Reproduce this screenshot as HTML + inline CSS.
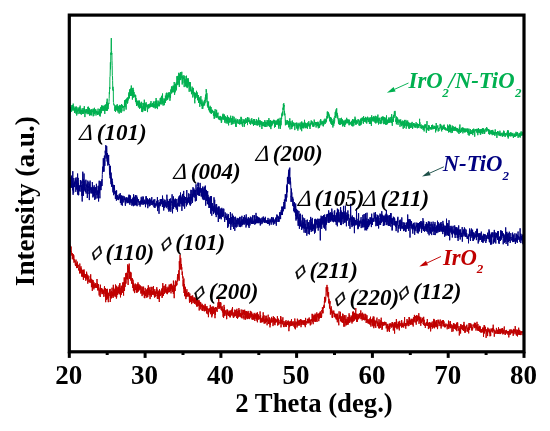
<!DOCTYPE html>
<html><head><meta charset="utf-8"><style>
html,body{margin:0;padding:0;background:#fff;width:550px;height:431px;overflow:hidden}
svg{display:block}
text{font-family:'Liberation Serif','Times New Roman',serif;}
.pk{font-weight:bold;font-style:italic;font-size:23px;fill:#000}
.dl{font-style:italic;font-size:23px;fill:#000}
.lz{font-style:italic;font-size:20px;fill:#000;stroke:#000;stroke-width:0.45px}
.tk{font-weight:bold;font-size:27px;fill:#000}
.ax{font-weight:bold;font-size:27px;fill:#000}
.lb{font-weight:bold;font-style:italic;font-size:22.7px}
</style></head><body>
<svg width="550" height="431" viewBox="0 0 550 431">
<polyline fill="none" stroke="#00b050" stroke-width="1" stroke-linejoin="round" points="69.3,109.7 69.5,110.5 69.6,109.0 69.8,107.4 69.9,108.6 70.1,107.2 70.2,109.9 70.4,113.2 70.5,108.5 70.7,108.2 70.8,111.1 71.0,110.7 71.1,110.1 71.3,107.5 71.4,109.8 71.6,111.7 71.7,106.4 71.9,108.7 72.0,105.0 72.2,106.6 72.3,105.2 72.5,109.4 72.6,106.7 72.8,110.7 72.9,110.4 73.1,109.5 73.2,103.6 73.4,108.7 73.5,109.9 73.7,110.4 73.8,106.2 74.0,108.9 74.2,107.6 74.3,108.0 74.5,112.9 74.6,108.1 74.8,110.1 74.9,112.4 75.1,108.7 75.2,109.9 75.4,110.5 75.5,110.4 75.7,107.1 75.8,110.5 76.0,113.7 76.1,106.3 76.3,112.5 76.4,110.6 76.6,108.7 76.7,115.5 76.9,112.3 77.0,107.3 77.2,110.6 77.3,111.9 77.5,109.9 77.6,112.2 77.8,110.3 77.9,112.1 78.1,114.1 78.2,108.7 78.4,111.0 78.5,109.3 78.7,110.8 78.8,107.5 79.0,109.1 79.2,110.0 79.3,112.9 79.5,113.5 79.6,107.2 79.8,108.6 79.9,112.3 80.1,105.6 80.2,109.5 80.4,110.4 80.5,113.9 80.7,112.5 80.8,109.9 81.0,109.8 81.1,110.2 81.3,114.7 81.4,109.8 81.6,110.1 81.7,111.8 81.9,110.6 82.0,110.5 82.2,108.2 82.3,111.0 82.5,109.9 82.6,114.0 82.8,112.7 82.9,111.0 83.1,112.8 83.2,110.3 83.4,113.8 83.5,111.2 83.7,112.7 83.9,108.0 84.0,112.2 84.2,107.1 84.3,106.2 84.5,110.6 84.6,109.1 84.8,111.8 84.9,117.1 85.1,109.4 85.2,109.9 85.4,112.0 85.5,112.8 85.7,111.1 85.8,111.1 86.0,113.4 86.1,112.9 86.3,109.1 86.4,111.5 86.6,111.8 86.7,109.1 86.9,112.4 87.0,109.6 87.2,114.2 87.3,112.3 87.5,112.1 87.6,110.4 87.8,111.6 87.9,106.9 88.1,109.1 88.2,112.9 88.4,106.7 88.5,114.1 88.7,107.7 88.9,114.0 89.0,110.0 89.2,114.1 89.3,112.5 89.5,108.3 89.6,115.3 89.8,115.8 89.9,112.1 90.1,111.6 90.2,111.9 90.4,109.8 90.5,115.0 90.7,110.9 90.8,112.1 91.0,110.3 91.1,110.7 91.3,109.1 91.4,115.4 91.6,111.9 91.7,114.6 91.9,112.3 92.0,110.5 92.2,111.4 92.3,110.8 92.5,112.2 92.6,111.3 92.8,111.5 92.9,108.8 93.1,110.2 93.2,116.3 93.4,110.5 93.6,109.6 93.7,113.0 93.9,115.7 94.0,108.6 94.2,111.7 94.3,110.6 94.5,107.8 94.6,114.0 94.8,112.1 94.9,112.3 95.1,110.3 95.2,113.3 95.4,110.8 95.5,111.8 95.7,109.4 95.8,109.1 96.0,115.5 96.1,110.9 96.3,112.8 96.4,112.0 96.6,111.0 96.7,110.8 96.9,113.7 97.0,111.3 97.2,111.7 97.3,112.1 97.5,115.0 97.6,113.8 97.8,113.0 97.9,110.7 98.1,108.6 98.2,114.4 98.4,114.5 98.6,111.7 98.7,113.4 98.9,114.0 99.0,114.1 99.2,114.3 99.3,110.9 99.5,115.8 99.6,108.9 99.8,114.1 99.9,113.2 100.1,114.1 100.2,116.5 100.4,115.4 100.5,108.7 100.7,107.2 100.8,113.4 101.0,108.7 101.1,111.1 101.3,113.1 101.4,106.7 101.6,105.4 101.7,111.3 101.9,110.7 102.0,109.8 102.2,110.4 102.3,108.0 102.5,106.2 102.6,109.5 102.8,107.3 102.9,105.5 103.1,110.9 103.3,109.3 103.4,110.4 103.6,106.7 103.7,107.4 103.9,106.4 104.0,106.6 104.2,109.3 104.3,106.7 104.5,109.6 104.6,109.6 104.8,113.9 104.9,104.9 105.1,110.8 105.2,108.2 105.4,108.4 105.5,104.5 105.7,107.1 105.8,110.1 106.0,107.9 106.1,108.3 106.3,107.2 106.4,110.9 106.6,107.7 106.7,101.9 106.9,105.8 107.0,102.3 107.2,98.7 107.3,105.9 107.5,110.7 107.6,107.1 107.8,103.6 107.9,103.9 108.1,109.1 108.3,106.0 108.4,105.0 108.6,103.9 108.7,103.1 108.9,103.9 109.0,101.6 109.2,98.6 109.3,92.3 109.5,94.1 109.6,87.0 109.8,89.0 109.9,76.9 110.1,76.3 110.2,72.0 110.4,62.3 110.5,69.3 110.7,64.1 110.8,52.7 111.0,54.8 111.1,51.3 111.3,38.1 111.4,50.5 111.6,50.9 111.7,54.3 111.9,53.3 112.0,60.7 112.2,65.7 112.3,75.5 112.5,77.0 112.6,80.4 112.8,89.7 113.0,86.8 113.1,90.8 113.3,89.5 113.4,102.2 113.6,102.5 113.7,104.1 113.9,104.8 114.0,104.3 114.2,105.5 114.3,104.9 114.5,105.6 114.6,106.7 114.8,110.9 114.9,108.6 115.1,107.2 115.2,105.9 115.4,105.9 115.5,112.0 115.7,109.2 115.8,108.1 116.0,107.1 116.1,105.1 116.3,107.9 116.4,110.4 116.6,107.2 116.7,107.6 116.9,107.7 117.0,108.6 117.2,104.2 117.3,107.8 117.5,106.2 117.6,110.8 117.8,106.4 118.0,110.0 118.1,112.5 118.3,107.6 118.4,106.9 118.6,108.9 118.7,108.4 118.9,105.8 119.0,109.6 119.2,113.6 119.3,107.6 119.5,107.7 119.6,105.5 119.8,109.0 119.9,104.9 120.1,105.2 120.2,111.5 120.4,105.7 120.5,110.9 120.7,112.0 120.8,108.6 121.0,109.3 121.1,113.0 121.3,107.2 121.4,106.1 121.6,104.1 121.7,107.7 121.9,111.4 122.0,110.0 122.2,104.9 122.3,105.0 122.5,105.9 122.7,107.9 122.8,106.5 123.0,107.5 123.1,107.6 123.3,106.0 123.4,106.5 123.6,107.1 123.7,106.2 123.9,107.6 124.0,111.2 124.2,107.6 124.3,106.0 124.5,101.1 124.6,106.5 124.8,100.0 124.9,101.3 125.1,107.3 125.2,106.7 125.4,104.1 125.5,99.6 125.7,103.1 125.8,102.0 126.0,105.4 126.1,109.6 126.3,103.7 126.4,100.6 126.6,99.2 126.7,102.0 126.9,101.3 127.0,98.2 127.2,101.5 127.4,97.5 127.5,103.6 127.7,103.1 127.8,102.8 128.0,97.9 128.1,100.4 128.3,98.0 128.4,96.9 128.6,96.6 128.7,93.3 128.9,92.4 129.0,98.7 129.2,95.3 129.3,96.1 129.5,98.1 129.6,89.4 129.8,91.8 129.9,94.4 130.1,94.7 130.2,92.0 130.4,96.0 130.5,93.2 130.7,88.5 130.8,89.1 131.0,94.3 131.1,93.1 131.3,85.5 131.4,95.6 131.6,93.2 131.7,95.6 131.9,90.2 132.0,90.5 132.2,88.0 132.4,99.6 132.5,91.3 132.7,97.0 132.8,90.3 133.0,93.1 133.1,87.8 133.3,92.1 133.4,96.6 133.6,90.2 133.7,97.7 133.9,95.8 134.0,92.0 134.2,94.1 134.3,94.6 134.5,96.3 134.6,95.3 134.8,94.8 134.9,96.8 135.1,95.1 135.2,94.7 135.4,98.8 135.5,101.9 135.7,95.3 135.8,100.1 136.0,98.6 136.1,98.0 136.3,103.6 136.4,100.0 136.6,106.0 136.7,99.9 136.9,103.5 137.1,102.1 137.2,100.9 137.4,104.9 137.5,103.0 137.7,105.4 137.8,103.8 138.0,101.2 138.1,104.1 138.3,104.7 138.4,107.4 138.6,102.4 138.7,105.0 138.9,100.5 139.0,107.1 139.2,102.6 139.3,100.7 139.5,105.6 139.6,108.8 139.8,101.8 139.9,103.1 140.1,104.1 140.2,103.2 140.4,107.3 140.5,104.2 140.7,104.5 140.8,108.1 141.0,104.5 141.1,107.8 141.3,104.1 141.4,103.5 141.6,101.8 141.7,111.8 141.9,106.0 142.1,107.5 142.2,106.8 142.4,107.4 142.5,107.1 142.7,112.1 142.8,104.3 143.0,102.9 143.1,104.4 143.3,103.5 143.4,109.1 143.6,109.3 143.7,104.6 143.9,103.5 144.0,106.2 144.2,110.9 144.3,99.7 144.5,108.6 144.6,104.4 144.8,110.0 144.9,104.4 145.1,106.5 145.2,103.2 145.4,104.6 145.5,110.9 145.7,109.4 145.8,106.2 146.0,104.9 146.1,102.2 146.3,106.2 146.4,107.1 146.6,107.0 146.8,106.9 146.9,104.2 147.1,107.0 147.2,107.0 147.4,110.6 147.5,112.1 147.7,106.7 147.8,105.0 148.0,106.9 148.1,105.4 148.3,105.1 148.4,106.9 148.6,104.2 148.7,108.6 148.9,106.7 149.0,107.7 149.2,106.5 149.3,105.0 149.5,104.4 149.6,106.3 149.8,105.4 149.9,107.5 150.1,106.9 150.2,103.2 150.4,107.0 150.5,103.2 150.7,105.1 150.8,105.9 151.0,101.1 151.1,106.8 151.3,107.0 151.4,106.1 151.6,105.3 151.8,105.4 151.9,103.8 152.1,105.6 152.2,104.8 152.4,106.5 152.5,103.0 152.7,106.8 152.8,106.5 153.0,105.7 153.1,104.9 153.3,107.5 153.4,101.5 153.6,107.2 153.7,106.6 153.9,106.6 154.0,106.8 154.2,104.0 154.3,105.0 154.5,107.4 154.6,106.8 154.8,106.2 154.9,101.4 155.1,107.0 155.2,108.6 155.4,108.1 155.5,105.9 155.7,100.9 155.8,107.7 156.0,104.6 156.1,98.0 156.3,105.9 156.5,100.7 156.6,101.1 156.8,102.9 156.9,108.0 157.1,103.4 157.2,105.1 157.4,109.1 157.5,108.6 157.7,103.9 157.8,103.4 158.0,100.5 158.1,102.0 158.3,105.0 158.4,104.8 158.6,104.0 158.7,106.3 158.9,101.4 159.0,103.3 159.2,105.4 159.3,104.9 159.5,106.2 159.6,104.2 159.8,102.2 159.9,103.9 160.1,100.0 160.2,98.2 160.4,104.3 160.5,102.5 160.7,103.4 160.8,97.7 161.0,101.3 161.1,100.6 161.3,99.8 161.5,95.8 161.6,101.1 161.8,104.5 161.9,103.0 162.1,100.1 162.2,101.6 162.4,103.6 162.5,93.5 162.7,100.8 162.8,102.6 163.0,102.8 163.1,105.6 163.3,103.8 163.4,101.3 163.6,101.1 163.7,102.4 163.9,98.4 164.0,99.7 164.2,102.3 164.3,105.2 164.5,98.9 164.6,99.1 164.8,99.7 164.9,102.8 165.1,98.7 165.2,102.9 165.4,95.6 165.5,97.8 165.7,97.6 165.8,100.3 166.0,101.0 166.2,93.3 166.3,94.9 166.5,98.4 166.6,95.3 166.8,92.6 166.9,100.1 167.1,98.3 167.2,98.1 167.4,95.1 167.5,99.4 167.7,95.5 167.8,99.4 168.0,93.2 168.1,93.2 168.3,96.2 168.4,93.3 168.6,97.4 168.7,95.9 168.9,92.2 169.0,95.1 169.2,93.6 169.3,97.3 169.5,92.5 169.6,92.9 169.8,97.8 169.9,100.8 170.1,99.9 170.2,93.7 170.4,93.9 170.5,97.8 170.7,92.4 170.8,89.5 171.0,92.7 171.2,93.5 171.3,89.2 171.5,86.4 171.6,86.8 171.8,93.2 171.9,88.5 172.1,90.2 172.2,91.0 172.4,92.1 172.5,88.8 172.7,91.2 172.8,86.6 173.0,88.0 173.1,85.6 173.3,92.3 173.4,88.3 173.6,85.8 173.7,86.8 173.9,87.0 174.0,89.7 174.2,82.0 174.3,83.6 174.5,85.5 174.6,94.8 174.8,89.4 174.9,85.6 175.1,88.1 175.2,92.3 175.4,84.5 175.5,83.9 175.7,88.9 175.9,86.3 176.0,86.6 176.2,82.5 176.3,90.4 176.5,89.4 176.6,85.4 176.8,85.6 176.9,76.2 177.1,85.0 177.2,81.9 177.4,83.8 177.5,84.4 177.7,80.8 177.8,75.9 178.0,82.7 178.1,78.8 178.3,80.0 178.4,78.9 178.6,79.7 178.7,72.8 178.9,84.7 179.0,81.3 179.2,84.0 179.3,86.9 179.5,80.0 179.6,73.6 179.8,76.5 179.9,75.3 180.1,77.6 180.2,79.4 180.4,72.1 180.5,80.1 180.7,73.5 180.9,79.6 181.0,78.0 181.2,77.2 181.3,77.9 181.5,76.1 181.6,75.7 181.8,71.8 181.9,77.4 182.1,83.9 182.2,84.5 182.4,82.3 182.5,80.3 182.7,75.6 182.8,83.1 183.0,78.0 183.1,78.1 183.3,77.5 183.4,78.9 183.6,77.2 183.7,78.6 183.9,75.2 184.0,77.8 184.2,87.1 184.3,79.1 184.5,78.7 184.6,81.5 184.8,82.2 184.9,76.0 185.1,79.4 185.2,83.5 185.4,81.5 185.6,81.2 185.7,86.3 185.9,79.0 186.0,81.8 186.2,80.0 186.3,87.1 186.5,75.7 186.6,80.2 186.8,81.0 186.9,85.2 187.1,85.3 187.2,88.1 187.4,78.5 187.5,86.5 187.7,83.2 187.8,82.2 188.0,86.5 188.1,81.9 188.3,78.3 188.4,84.2 188.6,80.7 188.7,83.8 188.9,87.4 189.0,87.4 189.2,91.8 189.3,86.2 189.5,82.1 189.6,84.9 189.8,84.6 189.9,83.9 190.1,89.5 190.3,86.2 190.4,82.2 190.6,91.0 190.7,88.7 190.9,90.4 191.0,89.9 191.2,91.8 191.3,90.1 191.5,94.2 191.6,91.8 191.8,92.0 191.9,92.3 192.1,86.6 192.2,90.9 192.4,90.9 192.5,92.6 192.7,88.0 192.8,97.5 193.0,93.0 193.1,89.2 193.3,87.9 193.4,92.5 193.6,93.4 193.7,91.7 193.9,94.4 194.0,92.4 194.2,96.3 194.3,92.6 194.5,95.0 194.6,98.3 194.8,103.3 194.9,92.8 195.1,94.6 195.3,93.6 195.4,98.6 195.6,92.9 195.7,95.0 195.9,96.5 196.0,93.8 196.2,93.9 196.3,95.5 196.5,90.8 196.6,92.9 196.8,96.0 196.9,97.8 197.1,97.0 197.2,92.4 197.4,96.4 197.5,100.2 197.7,99.6 197.8,97.9 198.0,95.6 198.1,100.2 198.3,96.7 198.4,95.1 198.6,96.3 198.7,103.0 198.9,99.5 199.0,102.4 199.2,97.7 199.3,102.0 199.5,97.6 199.6,99.0 199.8,106.8 200.0,101.9 200.1,98.4 200.3,99.9 200.4,101.3 200.6,104.1 200.7,99.4 200.9,96.1 201.0,100.5 201.2,101.6 201.3,102.1 201.5,105.7 201.6,103.1 201.8,104.7 201.9,99.6 202.1,105.3 202.2,108.9 202.4,105.4 202.5,104.2 202.7,104.1 202.8,108.8 203.0,101.5 203.1,103.8 203.3,105.4 203.4,106.2 203.6,102.9 203.7,104.9 203.9,103.2 204.0,104.3 204.2,103.4 204.3,100.5 204.5,103.3 204.6,105.5 204.8,99.9 205.0,101.4 205.1,103.3 205.3,97.4 205.4,99.8 205.6,94.6 205.7,99.2 205.9,100.7 206.0,97.8 206.2,89.1 206.3,91.7 206.5,90.7 206.6,92.6 206.8,99.5 206.9,93.2 207.1,102.2 207.2,100.7 207.4,106.2 207.5,103.8 207.7,102.4 207.8,105.7 208.0,107.5 208.1,106.2 208.3,107.8 208.4,105.5 208.6,101.5 208.7,109.9 208.9,109.6 209.0,108.4 209.2,108.4 209.3,111.2 209.5,107.5 209.7,107.0 209.8,108.6 210.0,112.3 210.1,105.8 210.3,112.6 210.4,108.1 210.6,107.0 210.7,113.3 210.9,109.9 211.0,107.0 211.2,109.6 211.3,113.0 211.5,113.8 211.6,109.8 211.8,112.1 211.9,113.0 212.1,109.7 212.2,112.4 212.4,111.5 212.5,110.4 212.7,110.6 212.8,112.2 213.0,112.2 213.1,110.9 213.3,111.3 213.4,115.3 213.6,113.2 213.7,115.0 213.9,115.9 214.0,114.5 214.2,118.8 214.3,111.3 214.5,115.4 214.7,112.8 214.8,118.2 215.0,117.9 215.1,109.2 215.3,111.7 215.4,115.8 215.6,116.2 215.7,116.2 215.9,114.4 216.0,115.8 216.2,116.4 216.3,114.7 216.5,117.5 216.6,109.8 216.8,116.8 216.9,113.0 217.1,117.8 217.2,115.1 217.4,113.7 217.5,116.8 217.7,113.9 217.8,114.0 218.0,112.6 218.1,116.4 218.3,117.7 218.4,119.0 218.6,116.5 218.7,119.3 218.9,117.1 219.0,116.9 219.2,118.6 219.4,119.8 219.5,116.7 219.7,117.1 219.8,117.4 220.0,118.1 220.1,115.9 220.3,120.3 220.4,117.1 220.6,119.1 220.7,116.2 220.9,119.0 221.0,119.1 221.2,117.3 221.3,122.8 221.5,119.1 221.6,122.4 221.8,120.5 221.9,116.9 222.1,117.6 222.2,119.5 222.4,118.6 222.5,118.7 222.7,117.9 222.8,114.5 223.0,118.2 223.1,113.7 223.3,119.6 223.4,117.1 223.6,117.2 223.7,118.4 223.9,119.5 224.0,115.7 224.2,115.0 224.4,116.6 224.5,114.5 224.7,116.9 224.8,122.7 225.0,116.8 225.1,120.6 225.3,116.2 225.4,119.9 225.6,118.6 225.7,119.2 225.9,120.6 226.0,123.3 226.2,119.9 226.3,119.8 226.5,117.4 226.6,120.9 226.8,119.1 226.9,121.5 227.1,119.6 227.2,123.6 227.4,115.4 227.5,119.1 227.7,121.8 227.8,119.1 228.0,118.2 228.1,119.4 228.3,116.9 228.4,120.3 228.6,125.4 228.7,122.6 228.9,117.7 229.1,118.3 229.2,119.3 229.4,122.5 229.5,118.5 229.7,118.8 229.8,122.3 230.0,122.3 230.1,119.6 230.3,118.0 230.4,117.1 230.6,119.0 230.7,115.7 230.9,122.3 231.0,119.3 231.2,121.8 231.3,124.8 231.5,123.3 231.6,118.3 231.8,122.7 231.9,123.4 232.1,119.3 232.2,118.9 232.4,120.8 232.5,117.6 232.7,124.3 232.8,115.9 233.0,118.8 233.1,120.6 233.3,120.8 233.4,121.6 233.6,121.9 233.7,120.9 233.9,123.8 234.1,116.8 234.2,121.5 234.4,120.0 234.5,121.8 234.7,122.1 234.8,119.7 235.0,120.3 235.1,123.4 235.3,122.4 235.4,120.2 235.6,126.0 235.7,126.6 235.9,118.5 236.0,122.3 236.2,127.0 236.3,123.3 236.5,122.1 236.6,121.2 236.8,120.5 236.9,121.2 237.1,120.5 237.2,123.3 237.4,120.8 237.5,120.7 237.7,119.1 237.8,121.6 238.0,119.8 238.1,121.3 238.3,123.9 238.4,122.5 238.6,122.8 238.8,122.4 238.9,121.8 239.1,121.4 239.2,121.0 239.4,123.3 239.5,119.4 239.7,124.5 239.8,121.7 240.0,120.1 240.1,120.6 240.3,120.2 240.4,122.0 240.6,120.1 240.7,124.1 240.9,120.0 241.0,116.8 241.2,120.1 241.3,117.4 241.5,121.6 241.6,123.9 241.8,123.1 241.9,118.8 242.1,120.0 242.2,125.5 242.4,122.4 242.5,121.7 242.7,123.9 242.8,126.9 243.0,124.4 243.1,122.0 243.3,122.4 243.5,123.0 243.6,120.4 243.8,119.4 243.9,121.8 244.1,119.6 244.2,121.5 244.4,121.9 244.5,126.7 244.7,119.9 244.8,121.4 245.0,121.3 245.1,122.6 245.3,123.9 245.4,120.6 245.6,119.9 245.7,118.2 245.9,119.7 246.0,122.8 246.2,121.8 246.3,119.5 246.5,120.9 246.6,121.7 246.8,122.8 246.9,120.4 247.1,121.1 247.2,117.8 247.4,119.2 247.5,125.1 247.7,117.0 247.8,121.0 248.0,122.1 248.1,120.9 248.3,119.9 248.5,121.5 248.6,121.7 248.8,121.5 248.9,117.7 249.1,121.4 249.2,119.8 249.4,120.5 249.5,122.2 249.7,123.0 249.8,123.6 250.0,120.6 250.1,123.7 250.3,124.2 250.4,124.2 250.6,124.7 250.7,121.5 250.9,121.4 251.0,123.6 251.2,118.9 251.3,122.3 251.5,120.7 251.6,121.1 251.8,118.2 251.9,120.0 252.1,121.9 252.2,123.8 252.4,124.1 252.5,121.8 252.7,121.6 252.8,120.3 253.0,122.9 253.2,121.5 253.3,123.4 253.5,125.8 253.6,122.0 253.8,119.0 253.9,120.3 254.1,119.1 254.2,119.6 254.4,125.0 254.5,122.7 254.7,119.0 254.8,123.6 255.0,124.9 255.1,121.5 255.3,120.9 255.4,121.6 255.6,122.9 255.7,123.7 255.9,124.9 256.0,125.0 256.2,124.9 256.3,125.3 256.5,123.8 256.6,119.2 256.8,122.2 256.9,123.2 257.1,121.7 257.2,124.5 257.4,121.8 257.5,120.6 257.7,125.6 257.8,124.0 258.0,123.1 258.2,124.6 258.3,124.9 258.5,123.4 258.6,117.6 258.8,121.3 258.9,121.8 259.1,120.7 259.2,123.2 259.4,125.3 259.5,121.8 259.7,120.5 259.8,127.1 260.0,121.9 260.1,120.3 260.3,123.4 260.4,123.8 260.6,121.5 260.7,124.6 260.9,122.0 261.0,121.1 261.2,123.4 261.3,124.6 261.5,121.7 261.6,123.8 261.8,122.9 261.9,129.0 262.1,121.6 262.2,126.0 262.4,123.0 262.5,122.9 262.7,124.7 262.9,125.1 263.0,125.9 263.2,123.9 263.3,122.0 263.5,122.2 263.6,124.4 263.8,124.5 263.9,126.2 264.1,124.2 264.2,125.6 264.4,126.5 264.5,123.7 264.7,120.4 264.8,121.0 265.0,120.5 265.1,126.8 265.3,121.7 265.4,126.0 265.6,124.7 265.7,127.0 265.9,125.5 266.0,123.3 266.2,123.1 266.3,123.6 266.5,123.8 266.6,122.4 266.8,123.4 266.9,126.8 267.1,120.0 267.2,124.0 267.4,121.6 267.5,123.9 267.7,125.2 267.9,123.4 268.0,125.1 268.2,120.2 268.3,125.8 268.5,122.2 268.6,124.8 268.8,123.9 268.9,118.1 269.1,121.9 269.2,123.9 269.4,126.7 269.5,124.1 269.7,124.0 269.8,120.6 270.0,126.4 270.1,127.2 270.3,123.5 270.4,123.0 270.6,120.1 270.7,125.3 270.9,129.1 271.0,125.0 271.2,126.1 271.3,124.6 271.5,121.5 271.6,126.2 271.8,120.9 271.9,123.1 272.1,124.1 272.2,125.3 272.4,124.3 272.6,124.3 272.7,121.9 272.9,120.8 273.0,123.6 273.2,122.0 273.3,120.8 273.5,120.9 273.6,122.5 273.8,119.7 273.9,120.7 274.1,120.1 274.2,123.9 274.4,124.3 274.5,127.6 274.7,120.4 274.8,122.1 275.0,125.4 275.1,123.0 275.3,122.8 275.4,127.0 275.6,122.8 275.7,121.1 275.9,120.7 276.0,124.1 276.2,124.1 276.3,120.6 276.5,121.4 276.6,124.5 276.8,124.6 276.9,122.1 277.1,124.7 277.2,124.6 277.4,119.7 277.6,122.7 277.7,124.2 277.9,122.2 278.0,118.9 278.2,122.8 278.3,124.9 278.5,126.6 278.6,118.8 278.8,128.7 278.9,121.0 279.1,125.3 279.2,125.8 279.4,125.3 279.5,123.6 279.7,120.8 279.8,124.5 280.0,121.6 280.1,117.8 280.3,128.9 280.4,124.3 280.6,126.5 280.7,120.6 280.9,125.3 281.0,125.3 281.2,124.8 281.3,120.9 281.5,117.6 281.6,119.0 281.8,113.5 281.9,113.5 282.1,116.4 282.3,112.4 282.4,112.9 282.6,111.6 282.7,115.3 282.9,112.4 283.0,107.7 283.2,110.1 283.3,104.1 283.5,105.0 283.6,108.4 283.8,103.2 283.9,106.6 284.1,105.0 284.2,110.1 284.4,115.4 284.5,110.9 284.7,114.8 284.8,113.5 285.0,114.3 285.1,115.3 285.3,122.4 285.4,125.3 285.6,121.9 285.7,119.9 285.9,123.4 286.0,121.6 286.2,124.3 286.3,123.5 286.5,123.7 286.6,124.5 286.8,122.2 286.9,122.6 287.1,120.0 287.3,122.7 287.4,120.7 287.6,123.4 287.7,121.7 287.9,123.9 288.0,124.7 288.2,120.9 288.3,122.2 288.5,121.9 288.6,125.4 288.8,127.4 288.9,125.6 289.1,123.2 289.2,126.9 289.4,120.9 289.5,127.0 289.7,122.7 289.8,118.3 290.0,129.4 290.1,127.3 290.3,122.0 290.4,124.4 290.6,123.7 290.7,124.4 290.9,121.2 291.0,122.8 291.2,125.2 291.3,124.7 291.5,126.7 291.6,124.5 291.8,129.1 292.0,122.9 292.1,124.9 292.3,120.5 292.4,121.9 292.6,127.1 292.7,122.6 292.9,125.6 293.0,124.4 293.2,122.4 293.3,123.8 293.5,123.5 293.6,123.6 293.8,126.1 293.9,125.9 294.1,123.5 294.2,122.8 294.4,125.3 294.5,124.5 294.7,126.8 294.8,130.1 295.0,126.5 295.1,124.7 295.3,124.5 295.4,123.1 295.6,123.0 295.7,122.9 295.9,124.1 296.0,124.1 296.2,126.4 296.3,124.2 296.5,124.6 296.6,122.6 296.8,128.3 297.0,126.1 297.1,128.6 297.3,126.7 297.4,128.1 297.6,124.6 297.7,126.6 297.9,130.6 298.0,122.8 298.2,127.6 298.3,128.6 298.5,126.1 298.6,126.8 298.8,127.8 298.9,124.0 299.1,126.2 299.2,123.6 299.4,124.0 299.5,124.1 299.7,125.1 299.8,125.7 300.0,126.4 300.1,122.6 300.3,129.4 300.4,127.8 300.6,126.9 300.7,124.7 300.9,125.2 301.0,126.5 301.2,126.2 301.3,121.9 301.5,126.8 301.7,131.2 301.8,121.5 302.0,127.3 302.1,126.0 302.3,125.0 302.4,128.1 302.6,122.8 302.7,125.6 302.9,128.2 303.0,124.8 303.2,124.3 303.3,125.4 303.5,124.3 303.6,128.3 303.8,123.3 303.9,126.9 304.1,122.5 304.2,126.5 304.4,124.9 304.5,119.8 304.7,125.0 304.8,122.9 305.0,124.1 305.1,128.2 305.3,122.7 305.4,122.8 305.6,127.9 305.7,125.2 305.9,128.1 306.0,125.6 306.2,123.1 306.4,124.8 306.5,127.4 306.7,126.8 306.8,124.9 307.0,125.0 307.1,124.6 307.3,123.6 307.4,128.8 307.6,124.8 307.7,122.5 307.9,123.8 308.0,126.3 308.2,126.1 308.3,124.5 308.5,123.3 308.6,124.8 308.8,121.2 308.9,122.0 309.1,126.3 309.2,123.7 309.4,125.4 309.5,127.2 309.7,126.0 309.8,124.7 310.0,129.0 310.1,126.0 310.3,123.8 310.4,126.1 310.6,125.4 310.7,122.8 310.9,124.7 311.0,124.2 311.2,120.4 311.4,124.1 311.5,123.9 311.7,123.5 311.8,121.0 312.0,123.7 312.1,124.3 312.3,124.6 312.4,122.0 312.6,125.7 312.7,121.8 312.9,123.9 313.0,127.0 313.2,122.9 313.3,123.2 313.5,126.5 313.6,123.5 313.8,123.6 313.9,124.7 314.1,126.4 314.2,119.6 314.4,122.5 314.5,122.1 314.7,121.9 314.8,122.4 315.0,122.4 315.1,124.8 315.3,122.3 315.4,124.4 315.6,124.9 315.7,122.5 315.9,124.3 316.1,127.5 316.2,124.7 316.4,122.7 316.5,123.9 316.7,122.1 316.8,124.5 317.0,125.7 317.1,122.2 317.3,123.5 317.4,126.2 317.6,122.8 317.7,124.3 317.9,121.7 318.0,122.1 318.2,122.7 318.3,128.3 318.5,122.9 318.6,122.7 318.8,122.6 318.9,123.4 319.1,125.1 319.2,124.1 319.4,127.9 319.5,124.1 319.7,126.6 319.8,124.2 320.0,124.9 320.1,120.6 320.3,123.3 320.4,123.4 320.6,123.0 320.7,119.1 320.9,125.3 321.1,122.7 321.2,122.6 321.4,122.9 321.5,123.0 321.7,124.2 321.8,120.8 322.0,121.4 322.1,124.0 322.3,123.6 322.4,122.6 322.6,122.1 322.7,121.6 322.9,123.2 323.0,125.8 323.2,121.1 323.3,126.4 323.5,125.0 323.6,122.3 323.8,124.9 323.9,120.2 324.1,119.6 324.2,120.5 324.4,122.3 324.5,122.5 324.7,122.0 324.8,123.3 325.0,118.6 325.1,124.0 325.3,119.9 325.4,121.4 325.6,121.7 325.8,120.0 325.9,119.3 326.1,119.7 326.2,121.4 326.4,122.3 326.5,121.7 326.7,117.6 326.8,117.2 327.0,116.1 327.1,118.3 327.3,111.6 327.4,118.3 327.6,113.3 327.7,111.7 327.9,113.7 328.0,114.9 328.2,112.9 328.3,114.6 328.5,112.4 328.6,115.6 328.8,116.2 328.9,113.7 329.1,118.2 329.2,116.1 329.4,116.9 329.5,115.5 329.7,117.8 329.8,121.0 330.0,117.1 330.1,122.0 330.3,121.8 330.4,122.1 330.6,117.2 330.8,121.9 330.9,123.7 331.1,120.9 331.2,122.9 331.4,117.8 331.5,124.2 331.7,121.5 331.8,124.7 332.0,119.1 332.1,124.4 332.3,122.4 332.4,124.6 332.6,121.0 332.7,121.6 332.9,127.5 333.0,121.0 333.2,121.2 333.3,122.0 333.5,120.3 333.6,124.8 333.8,125.7 333.9,120.3 334.1,117.7 334.2,123.5 334.4,122.9 334.5,121.6 334.7,121.6 334.8,116.2 335.0,116.9 335.1,113.1 335.3,111.9 335.5,116.6 335.6,111.6 335.8,118.0 335.9,111.8 336.1,109.4 336.2,112.7 336.4,115.3 336.5,112.2 336.7,108.3 336.8,113.1 337.0,116.4 337.1,112.8 337.3,113.1 337.4,118.4 337.6,117.3 337.7,115.4 337.9,117.9 338.0,117.8 338.2,120.8 338.3,120.9 338.5,123.6 338.6,123.0 338.8,118.5 338.9,122.9 339.1,124.1 339.2,123.3 339.4,124.6 339.5,121.3 339.7,120.5 339.8,124.5 340.0,120.4 340.1,118.1 340.3,124.8 340.5,121.1 340.6,122.0 340.8,119.7 340.9,119.8 341.1,120.2 341.2,121.8 341.4,123.4 341.5,117.8 341.7,124.2 341.8,120.1 342.0,120.3 342.1,124.0 342.3,122.4 342.4,119.3 342.6,126.4 342.7,120.7 342.9,123.0 343.0,122.9 343.2,125.4 343.3,121.5 343.5,124.5 343.6,120.8 343.8,124.7 343.9,120.7 344.1,121.6 344.2,126.3 344.4,123.0 344.5,122.5 344.7,127.0 344.8,123.0 345.0,120.5 345.2,123.8 345.3,119.7 345.5,124.6 345.6,124.7 345.8,121.0 345.9,120.8 346.1,122.5 346.2,122.2 346.4,120.1 346.5,123.3 346.7,117.8 346.8,121.2 347.0,121.3 347.1,121.5 347.3,122.8 347.4,119.5 347.6,123.3 347.7,121.7 347.9,120.7 348.0,119.2 348.2,119.5 348.3,122.8 348.5,120.0 348.6,122.2 348.8,124.3 348.9,124.2 349.1,125.3 349.2,121.4 349.4,119.7 349.5,124.2 349.7,122.6 349.8,124.4 350.0,122.0 350.2,124.5 350.3,123.7 350.5,123.5 350.6,123.0 350.8,122.8 350.9,122.4 351.1,122.4 351.2,124.0 351.4,120.8 351.5,125.6 351.7,121.6 351.8,124.0 352.0,121.7 352.1,121.3 352.3,126.2 352.4,121.2 352.6,119.1 352.7,120.3 352.9,121.1 353.0,126.4 353.2,122.2 353.3,123.8 353.5,119.6 353.6,122.5 353.8,123.2 353.9,125.6 354.1,120.2 354.2,123.0 354.4,122.4 354.5,119.5 354.7,121.6 354.9,121.1 355.0,116.7 355.2,122.9 355.3,122.8 355.5,120.7 355.6,118.7 355.8,124.7 355.9,122.1 356.1,123.7 356.2,124.5 356.4,120.3 356.5,123.2 356.7,120.9 356.8,121.2 357.0,121.2 357.1,121.3 357.3,123.7 357.4,121.5 357.6,120.9 357.7,120.6 357.9,121.9 358.0,119.2 358.2,120.0 358.3,121.0 358.5,119.9 358.6,120.8 358.8,119.7 358.9,125.3 359.1,123.9 359.2,121.9 359.4,120.8 359.6,125.7 359.7,121.6 359.9,120.7 360.0,121.5 360.2,121.5 360.3,123.8 360.5,120.7 360.6,125.3 360.8,118.8 360.9,122.2 361.1,118.5 361.2,124.6 361.4,119.9 361.5,120.4 361.7,122.6 361.8,123.3 362.0,118.1 362.1,119.7 362.3,117.4 362.4,120.8 362.6,120.2 362.7,119.7 362.9,118.9 363.0,119.6 363.2,118.8 363.3,121.6 363.5,123.7 363.6,116.2 363.8,120.1 363.9,119.4 364.1,121.4 364.2,118.3 364.4,120.0 364.6,118.0 364.7,121.8 364.9,120.5 365.0,119.9 365.2,121.1 365.3,119.7 365.5,116.9 365.6,121.6 365.8,120.9 365.9,119.9 366.1,122.4 366.2,122.9 366.4,117.8 366.5,118.5 366.7,123.6 366.8,123.3 367.0,118.6 367.1,117.6 367.3,118.8 367.4,119.1 367.6,116.7 367.7,120.2 367.9,117.3 368.0,117.5 368.2,122.1 368.3,118.6 368.5,119.9 368.6,121.5 368.8,121.9 368.9,119.3 369.1,120.1 369.3,118.2 369.4,123.9 369.6,121.5 369.7,117.6 369.9,120.0 370.0,121.6 370.2,121.0 370.3,124.0 370.5,123.0 370.6,118.8 370.8,119.8 370.9,117.1 371.1,120.5 371.2,120.3 371.4,125.9 371.5,120.1 371.7,115.3 371.8,118.4 372.0,120.1 372.1,117.1 372.3,117.9 372.4,119.0 372.6,120.6 372.7,119.5 372.9,117.8 373.0,121.5 373.2,118.6 373.3,118.7 373.5,116.7 373.6,118.0 373.8,121.2 373.9,116.2 374.1,119.6 374.3,121.3 374.4,118.9 374.6,120.2 374.7,117.2 374.9,122.6 375.0,122.1 375.2,120.2 375.3,115.8 375.5,117.4 375.6,121.9 375.8,123.5 375.9,120.4 376.1,122.5 376.2,118.4 376.4,119.3 376.5,119.8 376.7,120.7 376.8,116.4 377.0,121.9 377.1,122.7 377.3,117.3 377.4,116.8 377.6,120.6 377.7,118.4 377.9,114.6 378.0,121.6 378.2,120.2 378.3,118.8 378.5,124.5 378.6,120.2 378.8,118.2 379.0,120.1 379.1,117.6 379.3,118.2 379.4,120.7 379.6,118.7 379.7,118.9 379.9,123.6 380.0,121.8 380.2,121.7 380.3,121.1 380.5,121.0 380.6,123.2 380.8,119.9 380.9,124.1 381.1,117.9 381.2,119.4 381.4,116.9 381.5,119.2 381.7,121.1 381.8,123.2 382.0,118.5 382.1,120.0 382.3,119.2 382.4,118.4 382.6,117.4 382.7,120.2 382.9,116.2 383.0,120.3 383.2,120.1 383.3,118.6 383.5,117.9 383.6,117.0 383.8,124.2 384.0,117.1 384.1,123.5 384.3,121.4 384.4,119.3 384.6,117.6 384.7,122.4 384.9,123.9 385.0,118.1 385.2,119.5 385.3,122.5 385.5,120.9 385.6,124.6 385.8,118.9 385.9,121.4 386.1,117.4 386.2,124.8 386.4,118.6 386.5,115.4 386.7,119.9 386.8,119.9 387.0,124.4 387.1,119.5 387.3,120.2 387.4,121.5 387.6,123.7 387.7,120.1 387.9,122.5 388.0,121.4 388.2,119.6 388.3,120.4 388.5,120.3 388.7,118.3 388.8,123.0 389.0,117.3 389.1,122.9 389.3,122.4 389.4,120.1 389.6,118.6 389.7,119.8 389.9,121.4 390.0,122.0 390.2,121.0 390.3,122.5 390.5,119.1 390.6,120.9 390.8,116.9 390.9,122.0 391.1,120.7 391.2,119.5 391.4,122.9 391.5,121.9 391.7,114.2 391.8,120.5 392.0,117.2 392.1,122.7 392.3,125.8 392.4,119.1 392.6,120.3 392.7,119.4 392.9,120.5 393.0,120.9 393.2,121.9 393.3,116.2 393.5,121.4 393.7,114.9 393.8,116.8 394.0,118.0 394.1,116.1 394.3,111.3 394.4,111.4 394.6,111.7 394.7,112.8 394.9,116.2 395.0,110.9 395.2,116.0 395.3,117.3 395.5,118.1 395.6,118.7 395.8,121.8 395.9,120.1 396.1,121.5 396.2,121.3 396.4,124.3 396.5,116.5 396.7,123.7 396.8,120.5 397.0,120.6 397.1,119.2 397.3,117.4 397.4,120.7 397.6,120.2 397.7,122.8 397.9,118.7 398.0,124.9 398.2,122.6 398.4,121.5 398.5,120.6 398.7,120.6 398.8,119.9 399.0,121.2 399.1,122.5 399.3,122.2 399.4,119.7 399.6,122.2 399.7,120.9 399.9,123.2 400.0,126.8 400.2,124.3 400.3,122.4 400.5,119.7 400.6,120.1 400.8,119.6 400.9,124.6 401.1,121.6 401.2,123.3 401.4,121.9 401.5,123.4 401.7,126.2 401.8,121.9 402.0,122.6 402.1,121.7 402.3,125.2 402.4,121.3 402.6,121.1 402.7,120.6 402.9,120.6 403.0,124.5 403.2,128.8 403.4,121.5 403.5,125.6 403.7,124.2 403.8,121.4 404.0,123.1 404.1,123.2 404.3,122.3 404.4,127.7 404.6,119.9 404.7,124.6 404.9,124.5 405.0,122.7 405.2,124.2 405.3,125.7 405.5,124.3 405.6,124.8 405.8,125.4 405.9,119.9 406.1,127.1 406.2,128.7 406.4,126.1 406.5,126.2 406.7,121.3 406.8,124.0 407.0,122.6 407.1,123.1 407.3,126.3 407.4,122.7 407.6,124.1 407.7,120.5 407.9,124.1 408.1,124.6 408.2,123.0 408.4,123.0 408.5,128.3 408.7,122.1 408.8,122.5 409.0,123.0 409.1,127.0 409.3,128.9 409.4,125.4 409.6,123.3 409.7,123.9 409.9,126.9 410.0,123.0 410.2,127.7 410.3,127.7 410.5,125.0 410.6,126.2 410.8,126.4 410.9,128.0 411.1,122.8 411.2,127.3 411.4,124.2 411.5,123.4 411.7,125.2 411.8,124.6 412.0,123.1 412.1,121.9 412.3,123.2 412.4,128.0 412.6,129.0 412.8,126.4 412.9,127.5 413.1,124.1 413.2,125.0 413.4,125.8 413.5,123.1 413.7,123.3 413.8,125.4 414.0,124.6 414.1,123.2 414.3,126.1 414.4,124.8 414.6,127.4 414.7,125.3 414.9,124.8 415.0,125.6 415.2,125.1 415.3,124.1 415.5,124.7 415.6,127.0 415.8,126.8 415.9,128.0 416.1,122.2 416.2,124.8 416.4,124.7 416.5,125.9 416.7,124.7 416.8,124.6 417.0,127.2 417.1,126.0 417.3,123.4 417.4,128.3 417.6,127.7 417.8,124.6 417.9,127.4 418.1,124.3 418.2,128.0 418.4,125.4 418.5,124.2 418.7,125.1 418.8,124.3 419.0,126.2 419.1,126.2 419.3,126.0 419.4,124.8 419.6,118.8 419.7,126.1 419.9,122.3 420.0,126.5 420.2,128.2 420.3,126.6 420.5,125.3 420.6,125.8 420.8,125.9 420.9,125.1 421.1,125.1 421.2,124.5 421.4,128.6 421.5,126.3 421.7,128.2 421.8,125.9 422.0,126.6 422.1,126.1 422.3,127.4 422.5,128.1 422.6,127.0 422.8,125.3 422.9,125.1 423.1,129.9 423.2,126.2 423.4,126.2 423.5,129.6 423.7,128.9 423.8,127.9 424.0,126.1 424.1,131.4 424.3,127.7 424.4,128.0 424.6,126.7 424.7,124.4 424.9,124.5 425.0,127.9 425.2,127.9 425.3,126.7 425.5,125.0 425.6,124.5 425.8,126.7 425.9,124.6 426.1,129.1 426.2,129.6 426.4,132.8 426.5,129.1 426.7,126.4 426.8,125.9 427.0,121.1 427.1,126.5 427.3,127.3 427.5,129.5 427.6,128.9 427.8,128.8 427.9,128.2 428.1,129.0 428.2,130.5 428.4,125.8 428.5,126.9 428.7,125.2 428.8,130.8 429.0,130.2 429.1,129.2 429.3,125.6 429.4,128.1 429.6,127.4 429.7,127.9 429.9,127.4 430.0,128.8 430.2,127.1 430.3,129.4 430.5,128.2 430.6,127.2 430.8,127.6 430.9,127.0 431.1,129.3 431.2,127.3 431.4,128.3 431.5,127.1 431.7,125.0 431.8,129.5 432.0,125.8 432.2,129.1 432.3,128.6 432.5,124.7 432.6,126.0 432.8,126.8 432.9,126.3 433.1,125.6 433.2,129.2 433.4,127.3 433.5,128.5 433.7,127.0 433.8,128.4 434.0,126.4 434.1,127.7 434.3,128.9 434.4,127.9 434.6,126.9 434.7,125.8 434.9,128.1 435.0,128.4 435.2,127.3 435.3,126.4 435.5,128.8 435.6,132.4 435.8,127.2 435.9,128.4 436.1,128.5 436.2,123.0 436.4,128.0 436.5,126.5 436.7,130.4 436.8,127.3 437.0,126.3 437.2,127.4 437.3,128.1 437.5,126.7 437.6,127.7 437.8,125.3 437.9,127.4 438.1,129.2 438.2,131.5 438.4,129.1 438.5,128.3 438.7,130.0 438.8,129.7 439.0,130.9 439.1,129.8 439.3,127.6 439.4,128.3 439.6,128.1 439.7,128.4 439.9,128.2 440.0,126.3 440.2,123.9 440.3,126.6 440.5,124.0 440.6,128.0 440.8,127.9 440.9,124.7 441.1,129.2 441.2,129.5 441.4,128.1 441.5,131.0 441.7,131.4 441.9,125.7 442.0,129.9 442.2,128.8 442.3,128.8 442.5,129.8 442.6,126.7 442.8,126.9 442.9,126.5 443.1,126.7 443.2,127.9 443.4,125.4 443.5,126.2 443.7,129.2 443.8,128.0 444.0,128.9 444.1,124.6 444.3,126.7 444.4,127.1 444.6,128.3 444.7,127.1 444.9,129.9 445.0,128.1 445.2,128.3 445.3,128.3 445.5,129.6 445.6,127.4 445.8,130.4 445.9,129.2 446.1,128.6 446.2,128.4 446.4,129.3 446.5,130.2 446.7,130.1 446.9,129.1 447.0,130.0 447.2,128.6 447.3,130.7 447.5,128.4 447.6,124.6 447.8,130.9 447.9,128.7 448.1,126.3 448.2,128.1 448.4,126.9 448.5,132.4 448.7,129.5 448.8,125.7 449.0,129.6 449.1,127.9 449.3,132.1 449.4,126.7 449.6,124.5 449.7,128.8 449.9,128.0 450.0,127.9 450.2,124.8 450.3,129.5 450.5,131.8 450.6,125.2 450.8,130.9 450.9,127.7 451.1,133.1 451.2,129.6 451.4,128.4 451.6,130.8 451.7,129.8 451.9,127.7 452.0,130.1 452.2,127.9 452.3,125.6 452.5,132.6 452.6,128.3 452.8,127.8 452.9,129.5 453.1,126.1 453.2,126.5 453.4,128.0 453.5,128.0 453.7,129.1 453.8,131.0 454.0,128.1 454.1,129.9 454.3,130.1 454.4,127.1 454.6,129.5 454.7,127.4 454.9,131.0 455.0,129.9 455.2,129.2 455.3,126.7 455.5,129.4 455.6,127.8 455.8,130.5 455.9,129.0 456.1,127.8 456.2,131.0 456.4,130.6 456.6,128.3 456.7,131.4 456.9,128.8 457.0,128.8 457.2,129.7 457.3,128.1 457.5,128.7 457.6,129.2 457.8,132.3 457.9,132.2 458.1,129.1 458.2,132.5 458.4,129.5 458.5,130.3 458.7,131.2 458.8,130.2 459.0,134.0 459.1,130.2 459.3,127.6 459.4,132.1 459.6,129.1 459.7,129.3 459.9,124.5 460.0,131.6 460.2,131.3 460.3,131.3 460.5,131.7 460.6,133.0 460.8,129.9 460.9,131.7 461.1,128.7 461.3,129.4 461.4,131.9 461.6,130.8 461.7,127.8 461.9,130.8 462.0,129.9 462.2,128.8 462.3,131.0 462.5,129.5 462.6,127.5 462.8,128.3 462.9,133.4 463.1,127.7 463.2,130.7 463.4,131.4 463.5,131.5 463.7,128.3 463.8,129.9 464.0,130.7 464.1,131.9 464.3,129.4 464.4,128.5 464.6,132.3 464.7,132.5 464.9,131.3 465.0,129.6 465.2,131.4 465.3,130.9 465.5,132.2 465.6,128.6 465.8,131.0 465.9,130.5 466.1,128.9 466.3,131.2 466.4,130.9 466.6,130.2 466.7,131.6 466.9,128.5 467.0,130.8 467.2,131.7 467.3,131.5 467.5,132.9 467.6,129.0 467.8,128.5 467.9,131.5 468.1,131.9 468.2,134.8 468.4,132.2 468.5,129.7 468.7,132.6 468.8,129.8 469.0,128.7 469.1,135.7 469.3,131.8 469.4,132.5 469.6,132.3 469.7,134.4 469.9,131.9 470.0,133.5 470.2,129.7 470.3,129.0 470.5,133.8 470.6,133.9 470.8,132.3 471.0,131.8 471.1,131.7 471.3,130.2 471.4,134.0 471.6,132.5 471.7,132.2 471.9,132.0 472.0,133.2 472.2,132.2 472.3,132.6 472.5,129.4 472.6,132.2 472.8,135.1 472.9,130.5 473.1,131.1 473.2,132.9 473.4,133.0 473.5,132.4 473.7,128.6 473.8,132.2 474.0,129.3 474.1,129.9 474.3,132.3 474.4,130.8 474.6,132.7 474.7,136.7 474.9,132.7 475.0,132.6 475.2,129.8 475.3,130.2 475.5,129.5 475.7,130.4 475.8,129.5 476.0,130.2 476.1,131.0 476.3,129.6 476.4,128.9 476.6,129.0 476.7,132.1 476.9,131.4 477.0,133.1 477.2,133.1 477.3,130.7 477.5,132.4 477.6,128.8 477.8,135.2 477.9,133.3 478.1,130.9 478.2,129.3 478.4,131.9 478.5,128.1 478.7,130.0 478.8,132.6 479.0,131.4 479.1,130.4 479.3,132.9 479.4,129.5 479.6,131.8 479.7,130.4 479.9,129.8 480.0,132.1 480.2,129.6 480.3,134.5 480.5,130.3 480.7,134.6 480.8,129.4 481.0,132.3 481.1,129.2 481.3,129.0 481.4,131.5 481.6,132.4 481.7,129.1 481.9,133.3 482.0,129.9 482.2,131.5 482.3,131.9 482.5,132.2 482.6,128.2 482.8,134.0 482.9,132.2 483.1,130.5 483.2,129.5 483.4,128.3 483.5,128.9 483.7,132.1 483.8,130.6 484.0,129.3 484.1,130.3 484.3,133.9 484.4,130.6 484.6,130.2 484.7,133.5 484.9,132.0 485.0,131.3 485.2,130.1 485.4,128.5 485.5,129.1 485.7,130.2 485.8,130.6 486.0,131.6 486.1,131.9 486.3,131.3 486.4,131.2 486.6,129.1 486.7,127.1 486.9,129.9 487.0,129.1 487.2,129.6 487.3,130.2 487.5,128.5 487.6,128.7 487.8,130.4 487.9,130.7 488.1,129.4 488.2,131.5 488.4,130.3 488.5,129.0 488.7,130.9 488.8,134.1 489.0,129.8 489.1,133.0 489.3,133.4 489.4,133.7 489.6,129.8 489.7,134.7 489.9,131.5 490.0,130.9 490.2,131.1 490.4,132.5 490.5,131.7 490.7,131.3 490.8,133.9 491.0,130.6 491.1,130.1 491.3,133.2 491.4,133.1 491.6,133.8 491.7,130.3 491.9,133.9 492.0,133.0 492.2,135.2 492.3,130.3 492.5,132.8 492.6,132.0 492.8,129.9 492.9,131.4 493.1,134.5 493.2,132.0 493.4,131.6 493.5,134.3 493.7,134.5 493.8,134.6 494.0,131.8 494.1,133.0 494.3,134.8 494.4,132.2 494.6,132.1 494.7,134.7 494.9,135.9 495.1,131.7 495.2,129.4 495.4,131.2 495.5,131.9 495.7,133.3 495.8,134.5 496.0,133.3 496.1,132.5 496.3,133.8 496.4,132.1 496.6,133.5 496.7,132.6 496.9,137.9 497.0,134.9 497.2,132.3 497.3,132.1 497.5,133.0 497.6,131.1 497.8,132.6 497.9,132.6 498.1,135.1 498.2,133.1 498.4,132.5 498.5,131.6 498.7,131.9 498.8,133.7 499.0,133.5 499.1,135.6 499.3,132.8 499.4,135.5 499.6,134.2 499.7,133.8 499.9,130.7 500.1,131.8 500.2,135.0 500.4,136.1 500.5,134.2 500.7,135.1 500.8,133.3 501.0,133.4 501.1,132.9 501.3,135.5 501.4,134.5 501.6,133.6 501.7,133.5 501.9,134.9 502.0,134.5 502.2,132.7 502.3,136.7 502.5,134.4 502.6,134.1 502.8,136.4 502.9,135.7 503.1,134.0 503.2,134.9 503.4,132.5 503.5,133.1 503.7,130.6 503.8,136.0 504.0,131.2 504.1,135.2 504.3,132.9 504.4,132.7 504.6,133.9 504.8,134.6 504.9,135.2 505.1,137.0 505.2,134.8 505.4,135.6 505.5,133.3 505.7,135.4 505.8,134.5 506.0,133.6 506.1,134.2 506.3,134.2 506.4,134.6 506.6,135.0 506.7,133.6 506.9,133.2 507.0,135.5 507.2,131.8 507.3,133.5 507.5,136.8 507.6,130.3 507.8,133.4 507.9,135.5 508.1,131.9 508.2,138.5 508.4,130.5 508.5,136.7 508.7,136.9 508.8,135.9 509.0,134.2 509.1,135.1 509.3,133.2 509.4,135.8 509.6,132.9 509.8,134.2 509.9,136.1 510.1,132.9 510.2,134.0 510.4,134.9 510.5,132.6 510.7,136.4 510.8,135.1 511.0,132.3 511.1,134.6 511.3,133.5 511.4,133.6 511.6,134.8 511.7,133.6 511.9,136.1 512.0,133.6 512.2,136.2 512.3,134.6 512.5,136.0 512.6,133.8 512.8,133.9 512.9,132.9 513.1,135.6 513.2,136.1 513.4,137.9 513.5,136.7 513.7,135.1 513.8,134.4 514.0,135.3 514.1,134.7 514.3,136.9 514.5,136.2 514.6,133.5 514.8,133.7 514.9,136.8 515.1,135.2 515.2,134.4 515.4,136.5 515.5,134.2 515.7,134.3 515.8,134.1 516.0,131.8 516.1,136.1 516.3,132.9 516.4,133.9 516.6,133.6 516.7,135.9 516.9,134.7 517.0,134.8 517.2,132.2 517.3,134.7 517.5,132.6 517.6,135.3 517.8,135.4 517.9,134.8 518.1,137.9 518.2,135.6 518.4,135.7 518.5,135.0 518.7,134.5 518.8,136.3 519.0,136.5 519.1,132.9 519.3,136.4 519.5,135.6 519.6,136.3 519.8,135.6 519.9,133.0 520.1,133.1 520.2,137.6 520.4,135.3 520.5,132.7 520.7,135.4 520.8,134.3 521.0,132.1 521.1,131.4 521.3,132.5 521.4,135.3 521.6,134.8 521.7,134.5 521.9,135.3 522.0,135.8 522.2,131.8 522.3,134.5 522.5,133.7 522.6,133.1 522.8,134.1 522.9,134.8 523.1,134.5 523.2,132.8 523.4,134.2 523.5,138.0 523.7,133.4 523.8,132.4 524.0,135.4"/>
<polyline fill="none" stroke="#000080" stroke-width="1" stroke-linejoin="round" points="69.3,185.7 69.5,185.1 69.6,177.4 69.8,187.7 69.9,179.1 70.1,177.5 70.2,180.0 70.4,182.5 70.5,186.5 70.7,186.1 70.8,183.0 71.0,187.7 71.1,183.6 71.3,187.6 71.4,176.4 71.6,175.6 71.7,187.1 71.9,176.6 72.0,181.9 72.2,182.9 72.3,181.1 72.5,181.3 72.6,190.3 72.8,171.2 72.9,187.9 73.1,194.8 73.2,183.7 73.4,183.6 73.5,187.2 73.7,192.6 73.8,178.0 74.0,184.2 74.2,182.9 74.3,186.6 74.5,184.6 74.6,187.1 74.8,181.9 74.9,184.2 75.1,180.7 75.2,180.8 75.4,183.4 75.5,183.4 75.7,178.4 75.8,191.8 76.0,183.5 76.1,177.4 76.3,189.6 76.4,180.6 76.6,186.8 76.7,184.2 76.9,185.6 77.0,185.2 77.2,181.6 77.3,184.6 77.5,194.5 77.6,173.5 77.8,184.9 77.9,186.7 78.1,179.4 78.2,177.9 78.4,195.3 78.5,182.9 78.7,195.0 78.8,187.4 79.0,185.1 79.2,187.2 79.3,188.0 79.5,190.7 79.6,187.0 79.8,185.6 79.9,185.8 80.1,191.7 80.2,189.1 80.4,180.1 80.5,182.0 80.7,186.8 80.8,182.1 81.0,183.4 81.1,180.6 81.3,184.1 81.4,187.5 81.6,190.4 81.7,185.5 81.9,195.9 82.0,185.2 82.2,201.5 82.3,190.7 82.5,188.2 82.6,183.3 82.8,171.7 82.9,185.1 83.1,186.8 83.2,195.5 83.4,179.1 83.5,195.6 83.7,184.8 83.9,189.7 84.0,173.5 84.2,186.9 84.3,184.5 84.5,189.7 84.6,186.8 84.8,180.7 84.9,191.2 85.1,190.0 85.2,189.5 85.4,191.6 85.5,192.1 85.7,186.5 85.8,179.8 86.0,179.7 86.1,193.6 86.3,190.4 86.4,187.3 86.6,184.7 86.7,187.1 86.9,187.1 87.0,185.3 87.2,183.5 87.3,198.0 87.5,188.3 87.6,184.1 87.8,180.6 87.9,183.5 88.1,190.9 88.2,191.1 88.4,186.2 88.5,187.6 88.7,185.8 88.9,181.8 89.0,194.1 89.2,189.4 89.3,200.1 89.5,183.7 89.6,186.9 89.8,192.1 89.9,186.4 90.1,180.6 90.2,183.0 90.4,188.4 90.5,189.8 90.7,187.6 90.8,193.3 91.0,193.3 91.1,190.1 91.3,188.7 91.4,187.3 91.6,191.5 91.7,193.4 91.9,189.2 92.0,191.3 92.2,187.5 92.3,182.1 92.5,184.3 92.6,193.2 92.8,191.7 92.9,197.4 93.1,189.9 93.2,194.0 93.4,196.3 93.6,194.8 93.7,186.9 93.9,189.1 94.0,190.7 94.2,185.3 94.3,192.5 94.5,195.3 94.6,188.0 94.8,200.0 94.9,189.1 95.1,189.5 95.2,189.4 95.4,187.2 95.5,192.7 95.7,190.8 95.8,198.8 96.0,193.7 96.1,193.3 96.3,189.6 96.4,183.8 96.6,190.1 96.7,186.4 96.9,195.0 97.0,190.2 97.2,198.3 97.3,193.7 97.5,194.0 97.6,191.0 97.8,190.7 97.9,192.7 98.1,193.9 98.2,185.8 98.4,191.4 98.6,201.5 98.7,188.1 98.9,187.1 99.0,184.7 99.2,180.7 99.3,193.2 99.5,187.4 99.6,188.2 99.8,195.4 99.9,198.3 100.1,181.0 100.2,190.2 100.4,187.5 100.5,185.8 100.7,185.7 100.8,182.5 101.0,190.1 101.1,184.5 101.3,182.4 101.4,186.3 101.6,183.8 101.7,180.8 101.9,179.3 102.0,186.0 102.2,178.6 102.3,174.6 102.5,169.6 102.6,171.4 102.8,166.6 102.9,172.0 103.1,171.8 103.3,158.2 103.4,168.6 103.6,171.1 103.7,167.4 103.9,160.2 104.0,171.7 104.2,159.6 104.3,155.7 104.5,155.6 104.6,160.7 104.8,165.6 104.9,165.9 105.1,159.6 105.2,150.7 105.4,153.2 105.5,151.2 105.7,154.8 105.8,145.1 106.0,155.6 106.1,158.5 106.3,153.6 106.4,157.0 106.6,149.0 106.7,146.1 106.9,150.9 107.0,161.4 107.2,161.0 107.3,153.0 107.5,162.8 107.6,154.9 107.8,165.6 107.9,160.7 108.1,156.4 108.3,163.9 108.4,156.4 108.6,156.6 108.7,154.9 108.9,164.7 109.0,164.1 109.2,165.0 109.3,164.4 109.5,174.5 109.6,166.5 109.8,166.1 109.9,176.5 110.1,178.3 110.2,174.2 110.4,165.8 110.5,172.0 110.7,178.4 110.8,176.7 111.0,184.2 111.1,172.6 111.3,182.2 111.4,177.6 111.6,186.5 111.7,181.6 111.9,186.8 112.0,180.9 112.2,178.7 112.3,180.6 112.5,183.2 112.6,182.3 112.8,191.3 113.0,192.4 113.1,189.0 113.3,184.8 113.4,188.7 113.6,187.2 113.7,195.2 113.9,191.6 114.0,192.6 114.2,190.0 114.3,185.0 114.5,189.5 114.6,188.8 114.8,194.0 114.9,193.4 115.1,190.8 115.2,192.4 115.4,198.9 115.5,191.2 115.7,191.6 115.8,194.0 116.0,192.7 116.1,193.8 116.3,196.9 116.4,200.7 116.6,190.3 116.7,195.8 116.9,196.1 117.0,195.9 117.2,195.7 117.3,195.4 117.5,199.5 117.6,195.3 117.8,196.4 118.0,196.9 118.1,197.3 118.3,196.6 118.4,200.1 118.6,197.2 118.7,197.8 118.9,197.3 119.0,194.6 119.2,195.2 119.3,194.6 119.5,198.3 119.6,195.8 119.8,194.8 119.9,198.6 120.1,199.5 120.2,193.1 120.4,203.0 120.5,198.3 120.7,198.0 120.8,201.4 121.0,198.6 121.1,196.8 121.3,204.8 121.4,195.5 121.6,198.4 121.7,201.1 121.9,195.7 122.0,198.5 122.2,199.9 122.3,205.7 122.5,196.4 122.7,198.9 122.8,200.9 123.0,199.3 123.1,195.8 123.3,200.3 123.4,199.5 123.6,200.5 123.7,202.5 123.9,202.2 124.0,200.6 124.2,200.3 124.3,196.4 124.5,199.2 124.6,200.2 124.8,198.5 124.9,200.0 125.1,197.4 125.2,204.0 125.4,205.8 125.5,198.7 125.7,200.9 125.8,199.2 126.0,203.4 126.1,201.1 126.3,200.1 126.4,199.3 126.6,200.3 126.7,197.2 126.9,201.8 127.0,198.0 127.2,201.5 127.4,200.4 127.5,203.1 127.7,200.0 127.8,202.9 128.0,197.6 128.1,201.8 128.3,199.5 128.4,200.7 128.6,200.4 128.7,202.7 128.9,194.7 129.0,201.1 129.2,196.1 129.3,203.5 129.5,194.9 129.6,197.5 129.8,195.7 129.9,204.8 130.1,196.8 130.2,200.7 130.4,198.9 130.5,195.5 130.7,199.5 130.8,202.3 131.0,200.0 131.1,203.1 131.3,199.5 131.4,200.5 131.6,199.5 131.7,201.5 131.9,205.8 132.0,201.6 132.2,201.2 132.4,199.0 132.5,198.6 132.7,204.7 132.8,197.7 133.0,198.2 133.1,200.5 133.3,199.6 133.4,206.2 133.6,194.3 133.7,201.8 133.9,202.8 134.0,197.8 134.2,199.1 134.3,202.1 134.5,205.4 134.6,198.4 134.8,196.7 134.9,203.7 135.1,205.2 135.2,200.1 135.4,195.0 135.5,205.1 135.7,200.6 135.8,204.2 136.0,201.0 136.1,200.1 136.3,200.0 136.4,205.3 136.6,205.2 136.7,195.4 136.9,198.7 137.1,206.2 137.2,200.3 137.4,197.6 137.5,201.4 137.7,201.1 137.8,201.1 138.0,200.1 138.1,200.6 138.3,200.2 138.4,202.4 138.6,199.2 138.7,200.7 138.9,201.1 139.0,205.1 139.2,202.6 139.3,201.3 139.5,203.1 139.6,202.7 139.8,204.6 139.9,203.0 140.1,206.6 140.2,205.4 140.4,201.6 140.5,200.6 140.7,204.2 140.8,203.2 141.0,201.5 141.1,197.7 141.3,196.8 141.4,202.8 141.6,204.0 141.7,204.1 141.9,198.3 142.1,204.8 142.2,200.5 142.4,203.1 142.5,203.2 142.7,199.8 142.8,200.4 143.0,196.3 143.1,199.5 143.3,197.1 143.4,203.3 143.6,202.3 143.7,204.7 143.9,203.2 144.0,200.4 144.2,203.2 144.3,201.2 144.5,204.0 144.6,203.2 144.8,199.6 144.9,202.3 145.1,202.5 145.2,201.5 145.4,204.9 145.5,207.2 145.7,201.4 145.8,201.5 146.0,196.2 146.1,202.1 146.3,201.3 146.4,196.5 146.6,203.4 146.8,204.2 146.9,200.5 147.1,201.6 147.2,199.9 147.4,204.8 147.5,198.4 147.7,201.8 147.8,208.2 148.0,202.9 148.1,204.1 148.3,202.4 148.4,199.5 148.6,202.7 148.7,204.0 148.9,200.0 149.0,203.8 149.2,206.4 149.3,205.9 149.5,198.5 149.6,200.2 149.8,198.4 149.9,206.0 150.1,204.7 150.2,205.0 150.4,200.5 150.5,199.7 150.7,203.3 150.8,203.4 151.0,200.6 151.1,203.5 151.3,205.0 151.4,203.8 151.6,200.1 151.8,197.1 151.9,202.4 152.1,203.6 152.2,202.4 152.4,202.0 152.5,201.2 152.7,205.3 152.8,203.1 153.0,203.6 153.1,200.4 153.3,201.5 153.4,203.8 153.6,200.3 153.7,199.6 153.9,202.4 154.0,206.9 154.2,203.9 154.3,207.7 154.5,203.0 154.6,202.5 154.8,199.2 154.9,201.7 155.1,207.8 155.2,204.4 155.4,205.7 155.5,205.6 155.7,203.5 155.8,202.9 156.0,203.9 156.1,205.6 156.3,204.9 156.5,205.1 156.6,204.0 156.8,201.2 156.9,202.8 157.1,200.7 157.2,206.7 157.4,197.1 157.5,203.0 157.7,211.1 157.8,202.6 158.0,200.1 158.1,203.6 158.3,207.8 158.4,203.2 158.6,205.7 158.7,204.1 158.9,202.6 159.0,213.8 159.2,204.0 159.3,202.1 159.5,202.3 159.6,205.0 159.8,205.2 159.9,206.3 160.1,204.3 160.2,199.3 160.4,205.6 160.5,202.9 160.7,203.0 160.8,199.1 161.0,202.0 161.1,201.5 161.3,203.8 161.5,199.2 161.6,204.1 161.8,204.3 161.9,200.3 162.1,201.9 162.2,201.1 162.4,207.0 162.5,195.6 162.7,202.8 162.8,198.5 163.0,202.6 163.1,206.8 163.3,201.9 163.4,204.5 163.6,201.2 163.7,210.5 163.9,207.1 164.0,207.8 164.2,199.6 164.3,200.3 164.5,207.7 164.6,203.4 164.8,203.2 164.9,205.2 165.1,199.8 165.2,206.7 165.4,204.2 165.5,205.8 165.7,201.8 165.8,205.9 166.0,201.7 166.2,207.4 166.3,208.1 166.5,207.3 166.6,206.0 166.8,206.4 166.9,194.7 167.1,207.1 167.2,203.2 167.4,204.5 167.5,203.2 167.7,199.3 167.8,202.3 168.0,206.5 168.1,209.3 168.3,202.0 168.4,201.0 168.6,209.4 168.7,201.1 168.9,211.7 169.0,204.4 169.2,201.1 169.3,207.8 169.5,210.4 169.6,199.1 169.8,209.9 169.9,203.3 170.1,209.7 170.2,202.9 170.4,198.4 170.5,206.0 170.7,207.5 170.8,211.8 171.0,210.4 171.2,206.6 171.3,203.1 171.5,202.0 171.6,202.8 171.8,200.8 171.9,202.8 172.1,194.3 172.2,204.4 172.4,203.6 172.5,213.3 172.7,206.5 172.8,201.8 173.0,205.7 173.1,198.9 173.3,201.2 173.4,196.4 173.6,208.9 173.7,205.7 173.9,198.9 174.0,203.1 174.2,206.9 174.3,205.2 174.5,204.7 174.6,199.9 174.8,200.7 174.9,203.5 175.1,206.6 175.2,199.8 175.4,198.6 175.5,207.4 175.7,199.3 175.9,207.1 176.0,203.8 176.2,206.2 176.3,209.6 176.5,205.4 176.6,205.7 176.8,199.0 176.9,199.8 177.1,205.1 177.2,208.6 177.4,208.0 177.5,211.6 177.7,203.6 177.8,203.1 178.0,206.3 178.1,202.3 178.3,202.0 178.4,198.0 178.6,206.1 178.7,197.8 178.9,204.1 179.0,196.3 179.2,206.3 179.3,197.8 179.5,205.2 179.6,195.5 179.8,200.0 179.9,206.5 180.1,198.5 180.2,202.0 180.4,199.8 180.5,192.5 180.7,203.0 180.9,203.5 181.0,197.3 181.2,204.0 181.3,198.6 181.5,197.7 181.6,201.8 181.8,199.0 181.9,210.9 182.1,195.5 182.2,204.7 182.4,205.7 182.5,193.9 182.7,194.8 182.8,204.0 183.0,199.9 183.1,203.3 183.3,206.4 183.4,200.3 183.6,197.5 183.7,190.9 183.9,202.6 184.0,198.1 184.2,203.1 184.3,202.7 184.5,196.3 184.6,208.7 184.8,206.2 184.9,205.2 185.1,197.0 185.2,200.1 185.4,199.4 185.6,199.9 185.7,197.0 185.9,203.1 186.0,202.2 186.2,202.7 186.3,199.2 186.5,206.3 186.6,201.8 186.8,190.0 186.9,198.3 187.1,200.6 187.2,204.6 187.4,199.4 187.5,199.6 187.7,197.8 187.8,203.1 188.0,198.6 188.1,197.9 188.3,197.2 188.4,202.3 188.6,197.9 188.7,193.3 188.9,202.4 189.0,197.0 189.2,201.2 189.3,201.2 189.5,204.4 189.6,203.7 189.8,197.1 189.9,198.7 190.1,194.0 190.3,205.7 190.4,200.5 190.6,204.2 190.7,197.0 190.9,189.8 191.0,204.1 191.2,198.0 191.3,198.0 191.5,197.4 191.6,199.6 191.8,198.9 191.9,190.0 192.1,200.8 192.2,193.9 192.4,193.9 192.5,202.8 192.7,199.3 192.8,193.8 193.0,187.2 193.1,195.5 193.3,196.8 193.4,194.0 193.6,188.9 193.7,190.6 193.9,188.5 194.0,194.5 194.2,196.9 194.3,197.6 194.5,189.9 194.6,193.8 194.8,195.0 194.9,190.2 195.1,191.6 195.3,201.4 195.4,193.0 195.6,195.9 195.7,190.0 195.9,192.0 196.0,184.3 196.2,191.6 196.3,196.8 196.5,200.7 196.6,196.7 196.8,194.3 196.9,191.5 197.1,188.5 197.2,190.3 197.4,193.7 197.5,187.4 197.7,195.0 197.8,186.3 198.0,182.6 198.1,186.0 198.3,182.9 198.4,184.2 198.6,195.4 198.7,189.3 198.9,191.1 199.0,195.3 199.2,195.7 199.3,187.5 199.5,195.8 199.6,191.4 199.8,189.6 200.0,191.5 200.1,182.9 200.3,186.0 200.4,189.2 200.6,192.6 200.7,188.2 200.9,189.4 201.0,194.5 201.2,196.6 201.3,193.7 201.5,196.1 201.6,188.5 201.8,189.1 201.9,192.0 202.1,189.3 202.2,188.4 202.4,198.4 202.5,190.0 202.7,186.6 202.8,193.3 203.0,199.5 203.1,191.6 203.3,196.9 203.4,189.5 203.6,189.3 203.7,188.5 203.9,191.1 204.0,200.1 204.2,186.7 204.3,199.4 204.5,187.5 204.6,191.1 204.8,196.0 205.0,195.2 205.1,193.9 205.3,185.6 205.4,195.0 205.6,189.2 205.7,205.7 205.9,193.6 206.0,195.8 206.2,190.2 206.3,193.5 206.5,190.3 206.6,200.8 206.8,195.7 206.9,199.7 207.1,194.6 207.2,195.8 207.4,204.1 207.5,194.4 207.7,191.1 207.8,201.3 208.0,194.8 208.1,198.2 208.3,204.5 208.4,197.0 208.6,204.8 208.7,198.1 208.9,208.0 209.0,207.5 209.2,199.8 209.3,201.2 209.5,198.7 209.7,203.5 209.8,207.9 210.0,196.7 210.1,207.4 210.3,197.7 210.4,200.0 210.6,196.2 210.7,213.6 210.9,204.8 211.0,205.9 211.2,202.0 211.3,210.0 211.5,196.2 211.6,205.9 211.8,215.7 211.9,204.6 212.1,206.5 212.2,209.5 212.4,203.1 212.5,206.9 212.7,211.2 212.8,207.9 213.0,208.8 213.1,205.8 213.3,208.8 213.4,207.8 213.6,214.1 213.7,211.0 213.9,206.9 214.0,197.3 214.2,211.4 214.3,211.7 214.5,204.4 214.7,199.8 214.8,203.7 215.0,212.9 215.1,204.3 215.3,207.1 215.4,210.2 215.6,214.8 215.7,209.4 215.9,209.2 216.0,207.4 216.2,217.1 216.3,214.7 216.5,209.7 216.6,204.1 216.8,206.9 216.9,213.1 217.1,207.5 217.2,214.7 217.4,212.5 217.5,212.3 217.7,214.1 217.8,213.5 218.0,207.7 218.1,210.1 218.3,222.0 218.4,206.5 218.6,209.8 218.7,216.7 218.9,211.4 219.0,208.6 219.2,206.5 219.4,214.8 219.5,217.0 219.7,218.8 219.8,213.0 220.0,217.5 220.1,208.4 220.3,213.8 220.4,210.2 220.6,214.1 220.7,216.7 220.9,218.2 221.0,209.3 221.2,219.3 221.3,211.8 221.5,209.5 221.6,213.4 221.8,207.8 221.9,214.3 222.1,215.7 222.2,213.7 222.4,217.0 222.5,213.4 222.7,214.9 222.8,208.8 223.0,215.3 223.1,211.5 223.3,213.4 223.4,215.0 223.6,216.4 223.7,208.6 223.9,209.1 224.0,214.6 224.2,218.0 224.4,217.6 224.5,220.0 224.7,221.9 224.8,218.5 225.0,216.4 225.1,212.3 225.3,212.7 225.4,214.9 225.6,218.1 225.7,218.0 225.9,217.2 226.0,216.6 226.2,220.0 226.3,218.4 226.5,218.8 226.6,219.0 226.8,215.5 226.9,213.6 227.1,220.1 227.2,219.9 227.4,217.3 227.5,216.6 227.7,227.9 227.8,215.4 228.0,217.7 228.1,219.9 228.3,214.1 228.4,219.5 228.6,226.5 228.7,223.0 228.9,221.9 229.1,221.8 229.2,220.0 229.4,223.6 229.5,219.1 229.7,218.1 229.8,220.3 230.0,223.7 230.1,221.5 230.3,223.0 230.4,212.1 230.6,225.3 230.7,230.0 230.9,226.0 231.0,219.5 231.2,217.5 231.3,222.1 231.5,217.2 231.6,224.1 231.8,219.2 231.9,225.2 232.1,226.8 232.2,213.6 232.4,222.6 232.5,218.8 232.7,216.1 232.8,219.1 233.0,220.6 233.1,225.4 233.3,215.7 233.4,225.4 233.6,229.0 233.7,223.7 233.9,223.5 234.1,221.4 234.2,217.1 234.4,223.4 234.5,222.9 234.7,224.1 234.8,230.8 235.0,224.1 235.1,223.0 235.3,227.0 235.4,216.7 235.6,217.4 235.7,220.1 235.9,219.2 236.0,223.9 236.2,220.3 236.3,227.5 236.5,226.7 236.6,224.1 236.8,220.1 236.9,223.6 237.1,224.2 237.2,217.9 237.4,222.6 237.5,223.8 237.7,222.2 237.8,226.7 238.0,225.5 238.1,218.7 238.3,221.9 238.4,218.7 238.6,223.3 238.8,218.7 238.9,224.4 239.1,222.7 239.2,224.5 239.4,221.0 239.5,216.9 239.7,227.0 239.8,220.9 240.0,225.7 240.1,222.8 240.3,223.5 240.4,227.1 240.6,222.5 240.7,225.7 240.9,216.9 241.0,224.1 241.2,220.7 241.3,221.0 241.5,221.4 241.6,222.5 241.8,226.5 241.9,215.8 242.1,221.5 242.2,219.2 242.4,224.9 242.5,220.1 242.7,222.8 242.8,220.2 243.0,223.4 243.1,224.4 243.3,220.2 243.5,221.5 243.6,217.1 243.8,222.3 243.9,223.9 244.1,219.7 244.2,224.7 244.4,215.2 244.5,215.8 244.7,217.2 244.8,219.9 245.0,221.4 245.1,221.1 245.3,221.1 245.4,223.4 245.6,219.9 245.7,217.6 245.9,217.7 246.0,227.5 246.2,214.4 246.3,220.8 246.5,225.5 246.6,222.7 246.8,218.9 246.9,221.3 247.1,223.8 247.2,224.7 247.4,218.7 247.5,223.4 247.7,222.0 247.8,224.4 248.0,225.2 248.1,220.3 248.3,217.1 248.5,222.4 248.6,226.3 248.8,223.2 248.9,221.9 249.1,228.0 249.2,218.3 249.4,223.8 249.5,219.6 249.7,221.3 249.8,221.4 250.0,225.4 250.1,218.6 250.3,219.7 250.4,216.7 250.6,222.5 250.7,219.9 250.9,222.3 251.0,218.2 251.2,220.2 251.3,224.0 251.5,220.7 251.6,222.9 251.8,222.6 251.9,220.2 252.1,216.9 252.2,223.8 252.4,221.6 252.5,223.8 252.7,215.6 252.8,216.6 253.0,215.3 253.2,218.7 253.3,223.9 253.5,222.6 253.6,221.0 253.8,221.4 253.9,223.1 254.1,220.3 254.2,222.1 254.4,221.4 254.5,215.2 254.7,220.0 254.8,224.7 255.0,220.0 255.1,220.7 255.3,219.4 255.4,219.8 255.6,224.0 255.7,220.3 255.9,218.3 256.0,212.9 256.2,219.5 256.3,215.9 256.5,216.3 256.6,223.1 256.8,222.8 256.9,216.0 257.1,223.2 257.2,222.2 257.4,219.0 257.5,222.9 257.7,216.8 257.8,217.9 258.0,217.3 258.2,218.1 258.3,223.2 258.5,217.6 258.6,218.0 258.8,218.5 258.9,221.4 259.1,220.1 259.2,223.1 259.4,219.1 259.5,217.7 259.7,219.7 259.8,221.0 260.0,218.6 260.1,221.6 260.3,225.5 260.4,219.5 260.6,221.0 260.7,224.3 260.9,219.3 261.0,218.8 261.2,218.2 261.3,221.9 261.5,222.2 261.6,220.6 261.8,221.0 261.9,224.1 262.1,223.1 262.2,217.4 262.4,220.9 262.5,221.2 262.7,222.8 262.9,220.4 263.0,219.4 263.2,219.8 263.3,216.5 263.5,220.9 263.6,219.5 263.8,222.2 263.9,218.4 264.1,219.9 264.2,218.6 264.4,218.3 264.5,222.8 264.7,219.8 264.8,222.1 265.0,218.2 265.1,221.3 265.3,216.8 265.4,219.8 265.6,219.8 265.7,222.5 265.9,221.5 266.0,220.6 266.2,223.1 266.3,221.5 266.5,222.4 266.6,223.0 266.8,220.9 266.9,220.3 267.1,221.9 267.2,220.0 267.4,222.1 267.5,223.9 267.7,223.2 267.9,220.1 268.0,217.9 268.2,221.0 268.3,220.8 268.5,223.9 268.6,220.2 268.8,220.6 268.9,223.0 269.1,219.9 269.2,220.7 269.4,225.4 269.5,224.9 269.7,222.7 269.8,221.8 270.0,218.7 270.1,222.5 270.3,221.3 270.4,221.7 270.6,219.8 270.7,221.1 270.9,220.7 271.0,221.9 271.2,224.7 271.3,222.1 271.5,217.0 271.6,218.7 271.8,217.2 271.9,219.1 272.1,222.5 272.2,222.1 272.4,219.6 272.6,221.8 272.7,219.2 272.9,217.5 273.0,217.5 273.2,218.9 273.3,224.6 273.5,217.7 273.6,224.2 273.8,224.3 273.9,220.5 274.1,220.8 274.2,219.4 274.4,220.9 274.5,222.5 274.7,220.9 274.8,223.3 275.0,223.8 275.1,221.6 275.3,221.5 275.4,220.4 275.6,221.4 275.7,217.6 275.9,221.4 276.0,220.8 276.2,217.9 276.3,225.7 276.5,217.4 276.6,217.6 276.8,220.5 276.9,214.5 277.1,217.4 277.2,215.3 277.4,216.7 277.6,218.8 277.7,219.9 277.9,221.8 278.0,220.9 278.2,221.8 278.3,220.0 278.5,216.9 278.6,221.1 278.8,216.5 278.9,215.9 279.1,221.8 279.2,219.5 279.4,217.6 279.5,218.9 279.7,219.1 279.8,212.3 280.0,215.8 280.1,212.3 280.3,215.9 280.4,213.3 280.6,219.1 280.7,216.3 280.9,212.0 281.0,214.2 281.2,210.2 281.3,213.7 281.5,215.0 281.6,213.8 281.8,206.6 281.9,211.2 282.1,213.6 282.3,212.6 282.4,215.0 282.6,206.7 282.7,212.2 282.9,207.9 283.0,210.3 283.2,210.6 283.3,211.1 283.5,206.4 283.6,208.5 283.8,203.4 283.9,202.0 284.1,208.4 284.2,205.7 284.4,199.5 284.5,201.6 284.7,204.1 284.8,209.1 285.0,206.5 285.1,204.8 285.3,194.2 285.4,199.7 285.6,200.9 285.7,199.6 285.9,198.6 286.0,194.8 286.2,201.6 286.3,199.2 286.5,191.3 286.6,186.0 286.8,197.5 286.9,184.5 287.1,190.6 287.3,192.3 287.4,177.6 287.6,181.6 287.7,176.9 287.9,179.5 288.0,177.1 288.2,183.9 288.3,176.2 288.5,172.4 288.6,177.6 288.8,170.3 288.9,170.0 289.1,183.5 289.2,168.8 289.4,171.4 289.5,175.3 289.7,171.2 289.8,167.6 290.0,184.6 290.1,177.4 290.3,180.3 290.4,182.8 290.6,181.7 290.7,183.0 290.9,190.2 291.0,201.8 291.2,195.8 291.3,197.2 291.5,188.6 291.6,196.3 291.8,192.5 292.0,201.9 292.1,198.7 292.3,200.7 292.4,201.1 292.6,199.8 292.7,196.8 292.9,206.1 293.0,198.7 293.2,200.2 293.3,204.4 293.5,203.3 293.6,207.7 293.8,211.2 293.9,208.7 294.1,208.9 294.2,208.7 294.4,212.4 294.5,202.2 294.7,211.3 294.8,206.6 295.0,205.8 295.1,211.0 295.3,209.9 295.4,214.0 295.6,216.3 295.7,203.5 295.9,212.5 296.0,220.6 296.2,216.7 296.3,219.2 296.5,214.4 296.6,208.9 296.8,210.4 297.0,217.6 297.1,218.8 297.3,212.9 297.4,215.0 297.6,217.3 297.7,210.2 297.9,215.8 298.0,223.5 298.2,225.9 298.3,217.7 298.5,225.2 298.6,216.7 298.8,216.0 298.9,211.0 299.1,223.1 299.2,218.5 299.4,228.8 299.5,221.6 299.7,221.4 299.8,214.2 300.0,226.7 300.1,220.1 300.3,221.0 300.4,213.7 300.6,225.5 300.7,226.0 300.9,220.3 301.0,223.1 301.2,224.4 301.3,226.7 301.5,223.7 301.7,230.0 301.8,222.8 302.0,221.7 302.1,222.4 302.3,214.8 302.4,221.4 302.6,228.4 302.7,225.8 302.9,221.9 303.0,226.4 303.2,217.6 303.3,224.2 303.5,227.3 303.6,228.1 303.8,222.6 303.9,229.0 304.1,232.7 304.2,224.1 304.4,228.6 304.5,219.9 304.7,218.4 304.8,228.3 305.0,226.2 305.1,226.9 305.3,223.9 305.4,225.1 305.6,229.4 305.7,232.9 305.9,225.5 306.0,220.1 306.2,231.4 306.4,228.9 306.5,229.2 306.7,227.4 306.8,235.7 307.0,227.1 307.1,228.8 307.3,219.6 307.4,224.6 307.6,224.3 307.7,226.9 307.9,228.4 308.0,224.2 308.2,233.9 308.3,222.8 308.5,225.2 308.6,227.9 308.8,222.0 308.9,229.2 309.1,229.4 309.2,225.7 309.4,234.5 309.5,227.1 309.7,227.9 309.8,222.9 310.0,220.0 310.1,224.2 310.3,225.4 310.4,224.8 310.6,229.7 310.7,216.9 310.9,221.9 311.0,219.1 311.2,231.9 311.4,224.1 311.5,224.3 311.7,221.9 311.8,230.0 312.0,224.6 312.1,227.2 312.3,217.9 312.4,231.0 312.6,227.8 312.7,228.4 312.9,231.2 313.0,225.3 313.2,225.4 313.3,229.0 313.5,227.8 313.6,225.0 313.8,226.1 313.9,223.8 314.1,228.9 314.2,229.8 314.4,225.8 314.5,233.7 314.7,219.3 314.8,224.7 315.0,232.9 315.1,223.9 315.3,218.8 315.4,231.4 315.6,227.7 315.7,220.3 315.9,228.5 316.1,220.9 316.2,219.4 316.4,224.4 316.5,222.9 316.7,220.2 316.8,223.3 317.0,220.5 317.1,224.9 317.3,224.5 317.4,227.7 317.6,222.5 317.7,218.7 317.9,218.7 318.0,223.2 318.2,230.6 318.3,227.6 318.5,221.3 318.6,227.9 318.8,218.9 318.9,228.0 319.1,222.1 319.2,226.9 319.4,226.2 319.5,222.3 319.7,224.8 319.8,218.8 320.0,222.9 320.1,227.7 320.3,240.4 320.4,226.0 320.6,223.3 320.7,218.6 320.9,227.3 321.1,215.7 321.2,219.2 321.4,224.1 321.5,217.4 321.7,228.9 321.8,227.0 322.0,219.8 322.1,219.8 322.3,216.5 322.4,216.1 322.6,223.8 322.7,224.5 322.9,223.3 323.0,222.9 323.2,219.3 323.3,223.1 323.5,215.2 323.6,221.5 323.8,227.6 323.9,226.9 324.1,219.2 324.2,219.7 324.4,226.9 324.5,228.6 324.7,214.5 324.8,219.0 325.0,221.8 325.1,225.9 325.3,217.0 325.4,223.3 325.6,219.2 325.8,230.5 325.9,222.1 326.1,219.7 326.2,218.7 326.4,224.6 326.5,222.9 326.7,215.3 326.8,220.8 327.0,214.1 327.1,216.5 327.3,214.1 327.4,213.9 327.6,216.5 327.7,215.2 327.9,221.6 328.0,222.7 328.2,218.2 328.3,214.3 328.5,222.5 328.6,210.3 328.8,210.6 328.9,221.9 329.1,221.5 329.2,222.8 329.4,217.6 329.5,213.1 329.7,216.2 329.8,220.8 330.0,215.0 330.1,215.2 330.3,212.2 330.4,213.2 330.6,221.7 330.8,220.0 330.9,213.1 331.1,213.4 331.2,215.6 331.4,220.3 331.5,212.9 331.7,217.1 331.8,208.6 332.0,212.4 332.1,219.5 332.3,221.6 332.4,212.7 332.6,214.3 332.7,221.0 332.9,215.9 333.0,215.2 333.2,219.7 333.3,218.3 333.5,222.2 333.6,220.8 333.8,214.9 333.9,216.8 334.1,217.0 334.2,211.4 334.4,213.0 334.5,221.3 334.7,210.3 334.8,221.3 335.0,218.3 335.1,216.4 335.3,219.3 335.5,219.0 335.6,222.1 335.8,215.1 335.9,215.8 336.1,215.7 336.2,224.8 336.4,220.8 336.5,212.7 336.7,215.2 336.8,213.5 337.0,216.6 337.1,217.4 337.3,226.3 337.4,208.6 337.6,220.8 337.7,218.2 337.9,213.3 338.0,215.6 338.2,214.1 338.3,216.4 338.5,220.5 338.6,209.6 338.8,221.8 338.9,214.5 339.1,222.5 339.2,217.8 339.4,221.3 339.5,218.4 339.7,220.6 339.8,216.1 340.0,212.2 340.1,218.7 340.3,218.9 340.5,224.9 340.6,207.2 340.8,215.0 340.9,220.5 341.1,210.5 341.2,215.0 341.4,225.1 341.5,222.1 341.7,212.2 341.8,222.2 342.0,221.1 342.1,219.4 342.3,217.7 342.4,217.1 342.6,212.3 342.7,213.9 342.9,219.3 343.0,216.7 343.2,224.1 343.3,214.7 343.5,205.9 343.6,214.8 343.8,217.4 343.9,217.9 344.1,216.5 344.2,212.7 344.4,222.7 344.5,213.5 344.7,219.4 344.8,215.1 345.0,211.2 345.2,222.5 345.3,205.7 345.5,212.9 345.6,218.5 345.8,215.2 345.9,220.0 346.1,216.4 346.2,215.0 346.4,226.3 346.5,216.1 346.7,216.4 346.8,212.5 347.0,214.1 347.1,220.1 347.3,219.8 347.4,217.5 347.6,214.5 347.7,220.6 347.9,210.4 348.0,216.3 348.2,216.7 348.3,214.3 348.5,218.6 348.6,215.2 348.8,214.7 348.9,225.9 349.1,221.4 349.2,223.5 349.4,218.6 349.5,222.6 349.7,221.9 349.8,223.8 350.0,228.8 350.2,217.8 350.3,219.9 350.5,218.7 350.6,203.9 350.8,213.1 350.9,219.2 351.1,221.9 351.2,216.8 351.4,224.2 351.5,224.9 351.7,217.7 351.8,225.6 352.0,227.1 352.1,221.6 352.3,215.5 352.4,226.1 352.6,219.2 352.7,218.3 352.9,220.5 353.0,217.8 353.2,224.7 353.3,223.5 353.5,225.5 353.6,222.8 353.8,217.0 353.9,219.8 354.1,224.3 354.2,218.9 354.4,233.2 354.5,219.7 354.7,218.3 354.9,225.8 355.0,224.2 355.2,220.9 355.3,220.1 355.5,222.9 355.6,224.7 355.8,224.4 355.9,219.9 356.1,223.1 356.2,224.9 356.4,224.6 356.5,208.2 356.7,217.6 356.8,218.1 357.0,220.5 357.1,222.3 357.3,225.5 357.4,224.2 357.6,221.1 357.7,221.8 357.9,229.2 358.0,219.2 358.2,223.1 358.3,228.5 358.5,223.4 358.6,213.2 358.8,223.6 358.9,220.4 359.1,221.6 359.2,226.6 359.4,224.1 359.6,221.0 359.7,226.0 359.9,224.1 360.0,222.7 360.2,223.6 360.3,223.4 360.5,221.0 360.6,220.5 360.8,222.6 360.9,218.5 361.1,217.2 361.2,228.1 361.4,221.6 361.5,222.6 361.7,222.1 361.8,222.9 362.0,222.9 362.1,223.1 362.3,219.5 362.4,226.9 362.6,220.0 362.7,227.4 362.9,214.9 363.0,218.6 363.2,227.3 363.3,222.5 363.5,220.3 363.6,224.8 363.8,218.8 363.9,223.6 364.1,214.0 364.2,221.5 364.4,220.7 364.6,225.8 364.7,227.2 364.9,219.9 365.0,230.4 365.2,221.0 365.3,214.7 365.5,213.3 365.6,229.8 365.8,222.9 365.9,220.4 366.1,219.9 366.2,218.4 366.4,228.7 366.5,222.5 366.7,230.4 366.8,221.9 367.0,212.7 367.1,226.2 367.3,221.0 367.4,221.5 367.6,229.0 367.7,221.2 367.9,227.2 368.0,222.2 368.2,218.9 368.3,224.2 368.5,219.4 368.6,227.1 368.8,225.9 368.9,222.0 369.1,224.3 369.3,224.0 369.4,220.4 369.6,225.3 369.7,220.5 369.9,224.0 370.0,217.3 370.2,221.6 370.3,222.9 370.5,217.7 370.6,219.3 370.8,218.7 370.9,223.9 371.1,217.8 371.2,222.6 371.4,227.1 371.5,222.1 371.7,213.7 371.8,221.0 372.0,224.8 372.1,219.1 372.3,224.9 372.4,222.8 372.6,221.9 372.7,219.0 372.9,217.8 373.0,218.8 373.2,220.1 373.3,222.0 373.5,221.5 373.6,218.4 373.8,219.9 373.9,221.1 374.1,212.6 374.3,216.1 374.4,215.9 374.6,218.4 374.7,218.0 374.9,218.0 375.0,215.4 375.2,221.9 375.3,220.2 375.5,212.1 375.6,219.1 375.8,214.3 375.9,226.2 376.1,217.1 376.2,217.3 376.4,219.3 376.5,218.1 376.7,218.7 376.8,225.5 377.0,219.9 377.1,222.5 377.3,223.7 377.4,214.8 377.6,226.0 377.7,221.8 377.9,222.9 378.0,215.3 378.2,222.3 378.3,220.6 378.5,216.6 378.6,228.5 378.8,221.3 379.0,217.9 379.1,219.7 379.3,222.7 379.4,223.6 379.6,221.3 379.7,223.9 379.9,225.0 380.0,213.6 380.2,216.8 380.3,214.9 380.5,219.2 380.6,224.8 380.8,221.5 380.9,214.4 381.1,217.5 381.2,223.0 381.4,216.5 381.5,218.3 381.7,220.0 381.8,211.2 382.0,222.0 382.1,220.1 382.3,221.1 382.4,214.7 382.6,215.5 382.7,216.2 382.9,219.7 383.0,219.0 383.2,219.2 383.3,226.0 383.5,224.0 383.6,215.7 383.8,216.0 384.0,225.6 384.1,217.3 384.3,224.2 384.4,225.1 384.6,216.4 384.7,217.5 384.9,218.9 385.0,215.1 385.2,214.7 385.3,217.1 385.5,222.2 385.6,217.1 385.8,218.1 385.9,217.2 386.1,213.6 386.2,225.1 386.4,209.9 386.5,216.7 386.7,221.6 386.8,213.9 387.0,222.0 387.1,224.6 387.3,216.3 387.4,220.6 387.6,215.5 387.7,221.9 387.9,220.4 388.0,220.9 388.2,225.6 388.3,222.1 388.5,225.6 388.7,222.9 388.8,215.7 389.0,221.6 389.1,222.5 389.3,215.0 389.4,226.0 389.6,221.1 389.7,222.4 389.9,217.5 390.0,221.4 390.2,222.3 390.3,220.0 390.5,221.6 390.6,213.1 390.8,226.7 390.9,217.2 391.1,213.2 391.2,218.0 391.4,218.5 391.5,223.9 391.7,218.4 391.8,223.1 392.0,218.4 392.1,230.6 392.3,224.3 392.4,229.8 392.6,218.5 392.7,225.0 392.9,218.9 393.0,224.8 393.2,225.2 393.3,216.7 393.5,218.5 393.7,218.5 393.8,217.3 394.0,220.3 394.1,219.5 394.3,217.7 394.4,223.6 394.6,225.4 394.7,218.5 394.9,221.4 395.0,223.6 395.2,222.7 395.3,221.0 395.5,226.7 395.6,226.8 395.8,226.2 395.9,222.9 396.1,231.1 396.2,230.2 396.4,222.3 396.5,223.4 396.7,228.3 396.8,220.9 397.0,225.4 397.1,224.1 397.3,221.4 397.4,223.2 397.6,218.3 397.7,222.1 397.9,216.8 398.0,232.5 398.2,229.7 398.4,228.7 398.5,225.3 398.7,227.9 398.8,228.9 399.0,228.0 399.1,227.7 399.3,221.1 399.4,226.0 399.6,222.5 399.7,220.2 399.9,220.4 400.0,226.1 400.2,228.3 400.3,219.6 400.5,230.9 400.6,229.9 400.8,223.3 400.9,223.0 401.1,224.5 401.2,228.3 401.4,223.4 401.5,220.8 401.7,226.1 401.8,217.4 402.0,225.4 402.1,229.1 402.3,226.1 402.4,227.8 402.6,226.8 402.7,227.7 402.9,225.6 403.0,222.1 403.2,224.3 403.4,224.9 403.5,229.7 403.7,231.1 403.8,226.8 404.0,222.6 404.1,222.7 404.3,224.7 404.4,230.4 404.6,226.6 404.7,225.2 404.9,222.7 405.0,228.7 405.2,226.6 405.3,225.3 405.5,225.9 405.6,231.6 405.8,225.0 405.9,231.7 406.1,230.1 406.2,225.8 406.4,228.8 406.5,225.2 406.7,222.7 406.8,224.7 407.0,222.4 407.1,227.5 407.3,225.8 407.4,227.8 407.6,228.7 407.7,214.5 407.9,226.9 408.1,219.3 408.2,226.4 408.4,222.7 408.5,226.2 408.7,230.8 408.8,219.7 409.0,226.6 409.1,225.6 409.3,219.1 409.4,228.3 409.6,226.1 409.7,224.1 409.9,223.4 410.0,237.6 410.2,224.6 410.3,219.5 410.5,222.7 410.6,224.7 410.8,224.7 410.9,225.8 411.1,222.3 411.2,228.1 411.4,224.4 411.5,221.2 411.7,223.2 411.8,224.8 412.0,229.2 412.1,228.0 412.3,225.0 412.4,226.3 412.6,227.0 412.8,233.6 412.9,224.1 413.1,228.0 413.2,228.9 413.4,222.9 413.5,227.0 413.7,226.9 413.8,224.7 414.0,228.4 414.1,230.1 414.3,230.5 414.4,225.7 414.6,227.1 414.7,234.9 414.9,222.5 415.0,227.3 415.2,229.7 415.3,227.1 415.5,228.9 415.6,227.2 415.8,229.3 415.9,231.2 416.1,225.8 416.2,227.3 416.4,226.4 416.5,225.2 416.7,226.6 416.8,222.6 417.0,229.4 417.1,232.8 417.3,232.9 417.4,231.3 417.6,223.3 417.8,232.2 417.9,224.2 418.1,226.6 418.2,233.5 418.4,223.0 418.5,229.9 418.7,227.9 418.8,226.3 419.0,223.7 419.1,228.4 419.3,225.2 419.4,230.7 419.6,231.4 419.7,222.0 419.9,225.2 420.0,225.8 420.2,222.8 420.3,223.0 420.5,227.4 420.6,226.3 420.8,221.1 420.9,225.1 421.1,229.0 421.2,222.8 421.4,223.8 421.5,232.9 421.7,231.9 421.8,221.3 422.0,222.3 422.1,228.6 422.3,222.9 422.5,226.3 422.6,225.6 422.8,229.3 422.9,218.2 423.1,219.4 423.2,222.9 423.4,231.0 423.5,226.8 423.7,221.2 423.8,229.1 424.0,229.9 424.1,226.5 424.3,226.2 424.4,229.0 424.6,231.8 424.7,228.0 424.9,229.4 425.0,227.3 425.2,226.1 425.3,224.2 425.5,228.5 425.6,226.5 425.8,226.7 425.9,230.9 426.1,229.4 426.2,230.7 426.4,222.0 426.5,229.6 426.7,225.5 426.8,224.8 427.0,224.6 427.1,232.0 427.3,230.7 427.5,225.2 427.6,223.7 427.8,227.8 427.9,226.1 428.1,233.7 428.2,222.6 428.4,221.3 428.5,226.9 428.7,227.9 428.8,228.3 429.0,230.6 429.1,235.3 429.3,226.7 429.4,226.0 429.6,221.7 429.7,228.8 429.9,231.0 430.0,227.1 430.2,232.2 430.3,228.1 430.5,233.5 430.6,229.2 430.8,224.3 430.9,225.8 431.1,222.6 431.2,221.9 431.4,229.1 431.5,231.3 431.7,235.1 431.8,228.0 432.0,227.3 432.2,224.2 432.3,231.7 432.5,229.6 432.6,226.1 432.8,230.7 432.9,230.3 433.1,221.6 433.2,231.0 433.4,228.8 433.5,226.9 433.7,226.9 433.8,234.6 434.0,233.9 434.1,234.9 434.3,224.3 434.4,226.1 434.6,231.7 434.7,224.2 434.9,225.9 435.0,222.1 435.2,235.1 435.3,232.3 435.5,230.2 435.6,229.3 435.8,227.1 435.9,227.1 436.1,230.8 436.2,226.0 436.4,233.0 436.5,226.8 436.7,225.5 436.8,233.2 437.0,228.1 437.2,230.6 437.3,227.2 437.5,220.7 437.6,230.6 437.8,223.9 437.9,232.5 438.1,223.2 438.2,222.1 438.4,229.8 438.5,230.2 438.7,229.1 438.8,224.4 439.0,231.9 439.1,223.6 439.3,227.1 439.4,226.0 439.6,227.5 439.7,231.8 439.9,226.6 440.0,230.8 440.2,231.3 440.3,222.8 440.5,224.7 440.6,227.5 440.8,226.8 440.9,230.0 441.1,222.0 441.2,231.5 441.4,231.6 441.5,228.3 441.7,224.0 441.9,229.0 442.0,227.1 442.2,231.0 442.3,228.7 442.5,231.6 442.6,227.5 442.8,234.1 442.9,220.9 443.1,225.4 443.2,230.8 443.4,223.7 443.5,231.7 443.7,224.8 443.8,229.4 444.0,225.9 444.1,227.5 444.3,229.7 444.4,228.8 444.6,227.8 444.7,236.8 444.9,229.2 445.0,225.7 445.2,232.5 445.3,232.1 445.5,233.5 445.6,235.5 445.8,225.9 445.9,233.0 446.1,233.3 446.2,229.2 446.4,230.1 446.5,218.7 446.7,227.2 446.9,235.6 447.0,223.0 447.2,227.4 447.3,230.3 447.5,231.4 447.6,235.1 447.8,223.1 447.9,229.5 448.1,232.4 448.2,224.7 448.4,229.2 448.5,236.0 448.7,234.1 448.8,231.3 449.0,220.2 449.1,229.0 449.3,230.8 449.4,228.4 449.6,229.2 449.7,240.3 449.9,228.7 450.0,226.1 450.2,230.4 450.3,228.5 450.5,228.6 450.6,229.5 450.8,232.6 450.9,230.8 451.1,225.8 451.2,229.6 451.4,231.8 451.6,228.5 451.7,234.3 451.9,233.1 452.0,226.9 452.2,231.6 452.3,237.5 452.5,236.1 452.6,230.5 452.8,233.9 452.9,228.4 453.1,225.8 453.2,232.9 453.4,231.9 453.5,232.9 453.7,231.1 453.8,232.4 454.0,229.5 454.1,233.0 454.3,234.3 454.4,231.3 454.6,234.4 454.7,225.4 454.9,228.9 455.0,236.8 455.2,238.0 455.3,232.8 455.5,231.6 455.6,227.6 455.8,233.4 455.9,234.9 456.1,227.0 456.2,234.3 456.4,234.1 456.6,234.0 456.7,228.6 456.9,234.5 457.0,227.4 457.2,237.9 457.3,233.3 457.5,228.8 457.6,237.6 457.8,237.0 457.9,230.8 458.1,240.9 458.2,229.7 458.4,234.4 458.5,237.5 458.7,225.4 458.8,237.0 459.0,233.3 459.1,233.5 459.3,229.9 459.4,234.9 459.6,229.9 459.7,230.5 459.9,232.4 460.0,229.7 460.2,239.5 460.3,229.4 460.5,231.4 460.6,233.0 460.8,234.1 460.9,236.9 461.1,237.0 461.3,233.1 461.4,232.8 461.6,234.3 461.7,237.1 461.9,236.7 462.0,232.5 462.2,227.1 462.3,241.7 462.5,237.6 462.6,235.2 462.8,235.5 462.9,232.6 463.1,230.9 463.2,233.3 463.4,233.7 463.5,232.3 463.7,229.4 463.8,233.4 464.0,236.5 464.1,232.8 464.3,234.6 464.4,227.4 464.6,233.9 464.7,234.2 464.9,230.4 465.0,228.7 465.2,236.1 465.3,231.9 465.5,236.4 465.6,233.3 465.8,236.9 465.9,233.6 466.1,229.6 466.3,234.5 466.4,233.7 466.6,237.1 466.7,233.3 466.9,233.5 467.0,237.9 467.2,238.9 467.3,237.5 467.5,238.5 467.6,236.5 467.8,237.6 467.9,238.0 468.1,236.4 468.2,235.3 468.4,235.6 468.5,243.3 468.7,235.2 468.8,234.3 469.0,233.9 469.1,235.1 469.3,236.0 469.4,231.4 469.6,228.5 469.7,236.3 469.9,229.8 470.0,236.2 470.2,235.8 470.3,239.3 470.5,241.0 470.6,236.6 470.8,233.5 471.0,231.4 471.1,232.8 471.3,235.6 471.4,228.5 471.6,235.8 471.7,235.5 471.9,237.7 472.0,234.4 472.2,235.9 472.3,233.1 472.5,234.0 472.6,229.7 472.8,236.1 472.9,240.9 473.1,236.2 473.2,236.9 473.4,232.4 473.5,240.6 473.7,233.2 473.8,238.5 474.0,236.2 474.1,232.6 474.3,239.3 474.4,235.9 474.6,236.5 474.7,237.4 474.9,235.9 475.0,234.7 475.2,237.5 475.3,234.6 475.5,236.2 475.7,233.8 475.8,231.1 476.0,233.8 476.1,234.4 476.3,236.2 476.4,240.1 476.6,230.5 476.7,236.6 476.9,228.8 477.0,232.7 477.2,234.5 477.3,228.8 477.5,230.1 477.6,236.8 477.8,236.6 477.9,235.9 478.1,233.7 478.2,243.5 478.4,235.8 478.5,233.5 478.7,242.0 478.8,238.5 479.0,235.2 479.1,240.4 479.3,237.0 479.4,238.6 479.6,237.3 479.7,233.2 479.9,239.8 480.0,237.1 480.2,233.3 480.3,234.1 480.5,239.8 480.7,235.4 480.8,236.8 481.0,238.8 481.1,237.0 481.3,231.6 481.4,238.7 481.6,239.7 481.7,239.5 481.9,242.0 482.0,237.8 482.2,239.2 482.3,241.9 482.5,235.7 482.6,242.4 482.8,242.4 482.9,239.2 483.1,242.7 483.2,239.5 483.4,233.8 483.5,240.4 483.7,237.7 483.8,238.0 484.0,237.2 484.1,241.2 484.3,238.5 484.4,234.4 484.6,238.3 484.7,239.1 484.9,234.3 485.0,235.3 485.2,235.4 485.4,234.7 485.5,237.9 485.7,240.1 485.8,243.0 486.0,240.7 486.1,240.1 486.3,240.5 486.4,241.1 486.6,235.5 486.7,239.0 486.9,237.8 487.0,236.3 487.2,235.2 487.3,235.1 487.5,235.9 487.6,232.7 487.8,238.5 487.9,236.7 488.1,237.1 488.2,237.9 488.4,239.2 488.5,234.8 488.7,236.4 488.8,231.5 489.0,229.4 489.1,230.4 489.3,241.9 489.4,230.8 489.6,238.3 489.7,241.7 489.9,235.3 490.0,242.2 490.2,242.9 490.4,239.9 490.5,244.6 490.7,238.9 490.8,234.4 491.0,238.5 491.1,235.4 491.3,232.5 491.4,232.6 491.6,244.5 491.7,235.1 491.9,236.8 492.0,234.7 492.2,237.3 492.3,236.1 492.5,235.5 492.6,232.9 492.8,232.2 492.9,234.4 493.1,237.9 493.2,243.8 493.4,240.4 493.5,242.9 493.7,238.5 493.8,236.6 494.0,232.6 494.1,236.9 494.3,229.9 494.4,235.9 494.6,242.3 494.7,238.0 494.9,240.7 495.1,235.7 495.2,232.4 495.4,235.4 495.5,235.7 495.7,241.0 495.8,243.5 496.0,234.5 496.1,235.8 496.3,236.5 496.4,235.8 496.6,232.9 496.7,237.3 496.9,238.2 497.0,238.3 497.2,233.0 497.3,236.6 497.5,231.3 497.6,240.0 497.8,233.7 497.9,236.1 498.1,235.6 498.2,235.1 498.4,233.6 498.5,231.2 498.7,242.8 498.8,237.9 499.0,237.9 499.1,244.0 499.3,236.7 499.4,238.9 499.6,237.2 499.7,241.0 499.9,238.8 500.1,238.1 500.2,236.3 500.4,238.0 500.5,241.0 500.7,230.3 500.8,236.7 501.0,235.8 501.1,236.2 501.3,230.7 501.4,239.6 501.6,234.4 501.7,236.5 501.9,235.6 502.0,231.8 502.2,235.8 502.3,231.2 502.5,234.2 502.6,236.3 502.8,237.3 502.9,237.5 503.1,236.9 503.2,244.3 503.4,238.8 503.5,233.4 503.7,235.4 503.8,235.2 504.0,236.8 504.1,235.4 504.3,234.6 504.4,242.8 504.6,237.6 504.8,236.4 504.9,236.7 505.1,236.8 505.2,242.0 505.4,239.1 505.5,241.2 505.7,227.4 505.8,238.6 506.0,241.0 506.1,244.0 506.3,237.7 506.4,232.0 506.6,239.5 506.7,235.7 506.9,231.8 507.0,235.6 507.2,241.1 507.3,241.6 507.5,240.0 507.6,234.3 507.8,245.8 507.9,233.9 508.1,237.5 508.2,233.1 508.4,242.0 508.5,239.2 508.7,240.6 508.8,238.1 509.0,237.6 509.1,238.4 509.3,231.7 509.4,241.0 509.6,240.8 509.8,236.6 509.9,237.8 510.1,238.8 510.2,242.9 510.4,239.3 510.5,238.1 510.7,236.3 510.8,233.1 511.0,236.0 511.1,238.2 511.3,237.2 511.4,238.2 511.6,240.4 511.7,239.4 511.9,238.9 512.0,240.1 512.2,238.6 512.3,238.0 512.5,239.6 512.6,232.6 512.8,242.1 512.9,234.0 513.1,240.8 513.2,238.2 513.4,241.7 513.5,238.3 513.7,235.2 513.8,241.6 514.0,238.8 514.1,238.6 514.3,238.5 514.5,241.4 514.6,240.8 514.8,239.0 514.9,233.3 515.1,237.0 515.2,238.6 515.4,244.0 515.5,239.5 515.7,238.0 515.8,242.1 516.0,238.0 516.1,238.3 516.3,238.9 516.4,233.7 516.6,241.4 516.7,239.8 516.9,237.5 517.0,234.8 517.2,239.1 517.3,242.9 517.5,236.5 517.6,235.1 517.8,239.8 517.9,233.5 518.1,231.5 518.2,237.1 518.4,236.4 518.5,237.7 518.7,236.8 518.8,239.6 519.0,237.9 519.1,236.7 519.3,237.2 519.5,240.6 519.6,241.7 519.8,241.5 519.9,240.9 520.1,228.3 520.2,235.5 520.4,237.7 520.5,239.3 520.7,233.6 520.8,243.1 521.0,239.6 521.1,236.7 521.3,239.2 521.4,237.6 521.6,236.3 521.7,240.3 521.9,237.3 522.0,234.3 522.2,236.7 522.3,238.3 522.5,235.3 522.6,242.6 522.8,235.3 522.9,244.2 523.1,241.5 523.2,235.8 523.4,239.1 523.5,242.4 523.7,238.1 523.8,235.0 524.0,239.0"/>
<polyline fill="none" stroke="#c00000" stroke-width="1" stroke-linejoin="round" points="69.3,248.6 69.5,241.8 69.6,246.1 69.8,245.3 69.9,245.2 70.1,245.0 70.2,245.8 70.4,249.2 70.5,248.9 70.7,246.2 70.8,252.2 71.0,246.7 71.1,251.5 71.3,251.1 71.4,253.9 71.6,252.7 71.7,254.8 71.9,253.1 72.0,255.8 72.2,254.9 72.3,259.3 72.5,253.4 72.6,258.1 72.8,256.9 72.9,256.7 73.1,255.4 73.2,258.2 73.4,254.2 73.5,254.9 73.7,260.1 73.8,255.3 74.0,262.7 74.2,259.1 74.3,260.7 74.5,260.8 74.6,262.0 74.8,260.8 74.9,261.0 75.1,261.9 75.2,265.0 75.4,265.5 75.5,266.0 75.7,264.1 75.8,263.0 76.0,259.6 76.1,265.5 76.3,266.2 76.4,263.4 76.6,266.6 76.7,268.1 76.9,265.4 77.0,268.0 77.2,266.4 77.3,261.6 77.5,265.0 77.6,265.4 77.8,267.9 77.9,264.7 78.1,266.0 78.2,264.9 78.4,267.5 78.5,268.0 78.7,270.5 78.8,270.3 79.0,269.0 79.2,269.4 79.3,269.3 79.5,269.6 79.6,273.4 79.8,263.5 79.9,269.6 80.1,271.0 80.2,273.3 80.4,267.8 80.5,271.6 80.7,273.1 80.8,269.9 81.0,266.3 81.1,270.4 81.3,268.4 81.4,273.3 81.6,269.6 81.7,276.6 81.9,272.5 82.0,270.2 82.2,271.2 82.3,269.8 82.5,273.8 82.6,276.8 82.8,272.6 82.9,275.7 83.1,271.0 83.2,274.4 83.4,279.8 83.5,270.2 83.7,277.3 83.9,277.3 84.0,269.4 84.2,270.8 84.3,272.1 84.5,277.5 84.6,273.9 84.8,274.8 84.9,277.2 85.1,275.8 85.2,276.3 85.4,275.0 85.5,279.0 85.7,274.1 85.8,280.8 86.0,275.6 86.1,274.5 86.3,278.5 86.4,278.2 86.6,271.7 86.7,277.9 86.9,273.7 87.0,275.3 87.2,279.9 87.3,275.5 87.5,279.0 87.6,277.2 87.8,283.7 87.9,278.2 88.1,275.4 88.2,275.8 88.4,276.5 88.5,279.5 88.7,279.3 88.9,282.1 89.0,280.1 89.2,280.1 89.3,280.8 89.5,279.7 89.6,281.0 89.8,282.6 89.9,282.7 90.1,279.2 90.2,275.9 90.4,278.8 90.5,282.0 90.7,274.3 90.8,280.2 91.0,283.0 91.1,280.2 91.3,278.8 91.4,287.2 91.6,286.3 91.7,281.8 91.9,286.5 92.0,286.6 92.2,279.7 92.3,290.9 92.5,280.6 92.6,282.7 92.8,280.5 92.9,284.1 93.1,280.2 93.2,284.1 93.4,287.5 93.6,285.1 93.7,283.9 93.9,289.4 94.0,282.3 94.2,288.0 94.3,284.4 94.5,286.1 94.6,285.7 94.8,286.2 94.9,285.8 95.1,283.8 95.2,284.6 95.4,287.7 95.5,286.2 95.7,283.1 95.8,284.7 96.0,284.8 96.1,286.9 96.3,287.8 96.4,287.6 96.6,285.5 96.7,287.7 96.9,283.5 97.0,279.0 97.2,287.8 97.3,283.0 97.5,285.3 97.6,284.7 97.8,290.5 97.9,284.9 98.1,289.7 98.2,287.4 98.4,285.2 98.6,284.2 98.7,290.8 98.9,290.7 99.0,292.0 99.2,295.5 99.3,290.7 99.5,290.9 99.6,289.7 99.8,290.6 99.9,289.3 100.1,287.6 100.2,297.0 100.4,284.7 100.5,291.7 100.7,292.4 100.8,291.6 101.0,288.1 101.1,290.7 101.3,289.9 101.4,288.0 101.6,291.5 101.7,290.4 101.9,290.0 102.0,294.2 102.2,288.6 102.3,293.6 102.5,290.3 102.6,293.8 102.8,292.7 102.9,293.4 103.1,289.5 103.3,290.3 103.4,290.1 103.6,293.6 103.7,295.7 103.9,296.9 104.0,291.7 104.2,293.8 104.3,288.2 104.5,286.2 104.6,290.9 104.8,291.7 104.9,288.8 105.1,288.1 105.2,296.0 105.4,291.4 105.5,288.4 105.7,302.2 105.8,294.8 106.0,293.1 106.1,296.6 106.3,291.6 106.4,299.8 106.6,289.0 106.7,289.8 106.9,293.9 107.0,291.7 107.2,299.3 107.3,288.8 107.5,291.8 107.6,295.2 107.8,296.4 107.9,298.0 108.1,295.7 108.3,302.2 108.4,292.8 108.6,295.1 108.7,297.6 108.9,293.4 109.0,293.5 109.2,292.9 109.3,292.3 109.5,290.5 109.6,292.6 109.8,289.1 109.9,296.0 110.1,288.9 110.2,302.0 110.4,300.6 110.5,298.4 110.7,293.6 110.8,292.2 111.0,298.7 111.1,294.9 111.3,296.2 111.4,291.5 111.6,297.9 111.7,291.1 111.9,294.3 112.0,287.7 112.2,291.5 112.3,295.6 112.5,292.1 112.6,292.1 112.8,296.5 113.0,293.3 113.1,298.0 113.3,284.8 113.4,295.5 113.6,295.2 113.7,287.7 113.9,288.6 114.0,296.4 114.2,289.3 114.3,290.8 114.5,295.2 114.6,291.8 114.8,294.6 114.9,289.7 115.1,293.8 115.2,296.6 115.4,293.7 115.5,284.5 115.7,294.7 115.8,292.5 116.0,288.9 116.1,297.1 116.3,285.7 116.4,298.6 116.6,289.5 116.7,297.3 116.9,291.4 117.0,286.6 117.2,291.7 117.3,292.4 117.5,293.1 117.6,294.9 117.8,287.7 118.0,292.6 118.1,293.4 118.3,289.6 118.4,287.1 118.6,286.9 118.7,293.0 118.9,293.1 119.0,287.0 119.2,285.1 119.3,294.3 119.5,284.1 119.6,290.2 119.8,286.5 119.9,283.0 120.1,289.7 120.2,288.5 120.4,294.4 120.5,297.4 120.7,288.4 120.8,292.8 121.0,292.8 121.1,287.0 121.3,285.7 121.4,294.7 121.6,287.4 121.7,288.5 121.9,287.5 122.0,288.0 122.2,286.2 122.3,291.0 122.5,292.7 122.7,286.6 122.8,282.8 123.0,287.9 123.1,282.1 123.3,285.0 123.4,291.7 123.6,295.6 123.7,288.1 123.9,282.5 124.0,289.1 124.2,277.4 124.3,283.0 124.5,291.0 124.6,287.7 124.8,279.2 124.9,277.6 125.1,286.9 125.2,282.9 125.4,280.3 125.5,283.7 125.7,279.2 125.8,273.2 126.0,283.6 126.1,277.0 126.3,274.9 126.4,272.8 126.6,278.7 126.7,273.6 126.9,278.9 127.0,274.4 127.2,279.5 127.4,272.6 127.5,270.8 127.7,264.4 127.8,267.6 128.0,275.1 128.1,285.0 128.3,265.6 128.4,266.2 128.6,272.1 128.7,272.7 128.9,267.5 129.0,270.9 129.2,263.6 129.3,269.7 129.5,275.3 129.6,278.9 129.8,271.5 129.9,271.6 130.1,275.3 130.2,278.7 130.4,276.7 130.5,272.1 130.7,277.4 130.8,280.6 131.0,274.3 131.1,272.5 131.3,280.6 131.4,280.7 131.6,283.7 131.7,280.8 131.9,278.5 132.0,279.8 132.2,278.1 132.4,278.9 132.5,280.9 132.7,281.6 132.8,288.0 133.0,279.7 133.1,284.4 133.3,282.7 133.4,290.7 133.6,286.5 133.7,284.4 133.9,289.0 134.0,286.5 134.2,284.7 134.3,292.1 134.5,289.3 134.6,293.1 134.8,291.2 134.9,289.9 135.1,287.7 135.2,283.5 135.4,290.0 135.5,287.8 135.7,290.0 135.8,287.6 136.0,285.3 136.1,284.3 136.3,290.3 136.4,292.4 136.6,286.9 136.7,289.5 136.9,292.8 137.1,285.1 137.2,286.9 137.4,284.2 137.5,292.2 137.7,289.0 137.8,286.5 138.0,282.4 138.1,287.5 138.3,291.6 138.4,287.2 138.6,286.7 138.7,290.4 138.9,284.0 139.0,288.4 139.2,290.3 139.3,285.6 139.5,285.4 139.6,289.1 139.8,287.9 139.9,287.5 140.1,289.0 140.2,289.2 140.4,285.5 140.5,286.5 140.7,290.4 140.8,292.8 141.0,293.7 141.1,286.4 141.3,293.1 141.4,292.1 141.6,289.6 141.7,291.5 141.9,292.7 142.1,296.1 142.2,286.6 142.4,292.4 142.5,290.0 142.7,289.9 142.8,294.6 143.0,293.6 143.1,287.6 143.3,290.1 143.4,292.0 143.6,286.6 143.7,294.4 143.9,291.4 144.0,292.3 144.2,293.0 144.3,298.0 144.5,292.2 144.6,291.1 144.8,298.2 144.9,290.8 145.1,290.8 145.2,287.9 145.4,296.1 145.5,293.4 145.7,294.1 145.8,293.1 146.0,292.0 146.1,289.9 146.3,289.9 146.4,293.9 146.6,292.9 146.8,297.8 146.9,289.9 147.1,290.8 147.2,289.0 147.4,296.9 147.5,288.3 147.7,294.9 147.8,297.1 148.0,291.9 148.1,294.7 148.3,285.3 148.4,291.0 148.6,286.8 148.7,292.8 148.9,292.3 149.0,289.7 149.2,295.3 149.3,293.4 149.5,290.5 149.6,290.5 149.8,287.4 149.9,291.6 150.1,299.1 150.2,289.9 150.4,293.7 150.5,290.6 150.7,295.1 150.8,294.0 151.0,291.8 151.1,286.8 151.3,291.0 151.4,296.7 151.6,292.0 151.8,294.9 151.9,291.4 152.1,287.0 152.2,294.5 152.4,294.2 152.5,291.3 152.7,292.1 152.8,294.3 153.0,291.5 153.1,294.6 153.3,292.8 153.4,286.0 153.6,293.2 153.7,291.8 153.9,291.1 154.0,295.1 154.2,292.3 154.3,295.7 154.5,297.5 154.6,294.5 154.8,289.2 154.9,291.8 155.1,297.1 155.2,293.3 155.4,291.6 155.5,293.8 155.7,295.7 155.8,294.9 156.0,296.1 156.1,291.4 156.3,293.1 156.5,293.1 156.6,293.8 156.8,287.2 156.9,293.1 157.1,289.5 157.2,298.2 157.4,298.7 157.5,299.0 157.7,296.2 157.8,292.1 158.0,296.6 158.1,293.0 158.3,295.5 158.4,290.7 158.6,291.6 158.7,294.9 158.9,299.0 159.0,293.3 159.2,300.4 159.3,302.0 159.5,289.3 159.6,293.2 159.8,290.3 159.9,292.8 160.1,291.5 160.2,292.9 160.4,296.1 160.5,296.0 160.7,293.8 160.8,292.9 161.0,293.3 161.1,293.2 161.3,294.6 161.5,292.8 161.6,294.3 161.8,288.6 161.9,295.1 162.1,298.0 162.2,293.1 162.4,288.1 162.5,296.6 162.7,291.4 162.8,283.1 163.0,291.6 163.1,294.1 163.3,293.4 163.4,295.9 163.6,294.0 163.7,292.4 163.9,285.9 164.0,288.5 164.2,292.4 164.3,293.9 164.5,288.6 164.6,289.9 164.8,293.1 164.9,285.8 165.1,285.6 165.2,290.8 165.4,292.1 165.5,289.8 165.7,284.2 165.8,291.1 166.0,286.9 166.2,292.9 166.3,290.5 166.5,291.5 166.6,292.5 166.8,288.9 166.9,292.9 167.1,294.1 167.2,291.4 167.4,294.1 167.5,288.1 167.7,292.7 167.8,290.6 168.0,286.7 168.1,289.4 168.3,287.9 168.4,287.7 168.6,289.6 168.7,292.4 168.9,288.1 169.0,289.4 169.2,284.5 169.3,289.1 169.5,292.1 169.6,291.0 169.8,289.9 169.9,286.8 170.1,285.4 170.2,288.0 170.4,284.2 170.5,284.5 170.7,291.0 170.8,285.3 171.0,293.4 171.2,283.7 171.3,289.2 171.5,284.4 171.6,288.4 171.8,284.7 171.9,287.9 172.1,287.2 172.2,286.3 172.4,289.1 172.5,292.0 172.7,285.7 172.8,290.0 173.0,287.6 173.1,287.2 173.3,293.8 173.4,280.6 173.6,285.0 173.7,281.5 173.9,285.9 174.0,286.1 174.2,298.2 174.3,287.6 174.5,291.9 174.6,290.3 174.8,284.9 174.9,287.5 175.1,291.0 175.2,286.3 175.4,286.2 175.5,286.9 175.7,280.5 175.9,282.4 176.0,285.7 176.2,286.1 176.3,281.4 176.5,283.0 176.6,283.3 176.8,282.9 176.9,285.2 177.1,282.9 177.2,282.6 177.4,276.9 177.5,277.4 177.7,281.3 177.8,274.1 178.0,279.6 178.1,275.5 178.3,274.0 178.4,278.2 178.6,272.4 178.7,270.7 178.9,270.2 179.0,271.8 179.2,280.7 179.3,261.2 179.5,268.1 179.6,266.2 179.8,269.9 179.9,263.8 180.1,254.7 180.2,269.3 180.4,259.2 180.5,263.1 180.7,257.8 180.9,259.2 181.0,262.0 181.2,268.1 181.3,268.8 181.5,264.1 181.6,269.5 181.8,267.3 181.9,270.4 182.1,271.9 182.2,275.0 182.4,271.7 182.5,274.9 182.7,277.5 182.8,278.3 183.0,276.5 183.1,286.4 183.3,280.0 183.4,285.2 183.6,284.4 183.7,288.7 183.9,278.5 184.0,293.0 184.2,286.5 184.3,284.0 184.5,289.0 184.6,296.2 184.8,291.3 184.9,286.5 185.1,289.3 185.2,295.3 185.4,287.3 185.6,291.4 185.7,291.4 185.9,299.1 186.0,292.0 186.2,297.1 186.3,291.4 186.5,291.3 186.6,296.9 186.8,296.0 186.9,289.2 187.1,296.4 187.2,296.6 187.4,293.1 187.5,295.7 187.7,296.1 187.8,294.0 188.0,293.9 188.1,293.8 188.3,295.1 188.4,292.2 188.6,296.1 188.7,292.0 188.9,296.8 189.0,296.4 189.2,293.8 189.3,299.4 189.5,302.7 189.6,301.1 189.8,293.5 189.9,301.2 190.1,298.3 190.3,297.6 190.4,296.2 190.6,298.0 190.7,302.1 190.9,299.8 191.0,297.1 191.2,296.5 191.3,297.4 191.5,300.3 191.6,304.1 191.8,295.8 191.9,299.0 192.1,298.0 192.2,297.0 192.4,300.4 192.5,301.0 192.7,295.4 192.8,296.6 193.0,303.1 193.1,300.7 193.3,301.4 193.4,298.6 193.6,299.0 193.7,301.5 193.9,298.9 194.0,297.2 194.2,300.5 194.3,303.2 194.5,297.8 194.6,303.8 194.8,302.9 194.9,298.5 195.1,301.1 195.3,301.1 195.4,303.1 195.6,303.3 195.7,297.9 195.9,297.9 196.0,304.7 196.2,302.2 196.3,303.2 196.5,303.0 196.6,306.5 196.8,298.9 196.9,305.5 197.1,300.2 197.2,304.7 197.4,306.5 197.5,299.0 197.7,304.1 197.8,302.3 198.0,302.4 198.1,303.4 198.3,300.5 198.4,300.8 198.6,305.5 198.7,306.1 198.9,302.3 199.0,299.9 199.2,310.5 199.3,307.3 199.5,305.3 199.6,301.5 199.8,302.9 200.0,305.3 200.1,302.1 200.3,309.3 200.4,305.4 200.6,306.2 200.7,302.4 200.9,302.9 201.0,303.4 201.2,306.4 201.3,305.1 201.5,305.1 201.6,306.9 201.8,306.8 201.9,310.4 202.1,305.9 202.2,303.8 202.4,306.7 202.5,310.9 202.7,305.5 202.8,307.3 203.0,306.3 203.1,308.5 203.3,308.2 203.4,305.4 203.6,307.1 203.7,310.5 203.9,311.1 204.0,310.7 204.2,310.7 204.3,307.5 204.5,307.6 204.6,311.3 204.8,305.6 205.0,308.8 205.1,303.9 205.3,308.0 205.4,307.2 205.6,305.9 205.7,310.8 205.9,307.3 206.0,308.3 206.2,308.7 206.3,307.4 206.5,313.4 206.6,308.2 206.8,310.1 206.9,306.0 207.1,308.4 207.2,308.9 207.4,309.0 207.5,308.2 207.7,310.3 207.8,314.3 208.0,309.6 208.1,309.7 208.3,309.0 208.4,317.2 208.6,314.7 208.7,311.8 208.9,312.2 209.0,308.4 209.2,310.0 209.3,311.0 209.5,310.8 209.7,308.2 209.8,308.4 210.0,312.1 210.1,311.5 210.3,304.9 210.4,310.9 210.6,314.2 210.7,308.9 210.9,311.4 211.0,306.7 211.2,313.0 211.3,307.7 211.5,307.3 211.6,309.9 211.8,317.3 211.9,309.1 212.1,307.3 212.2,312.1 212.4,311.5 212.5,315.4 212.7,307.3 212.8,306.4 213.0,310.0 213.1,311.9 213.3,311.8 213.4,313.8 213.6,306.7 213.7,308.5 213.9,310.5 214.0,313.1 214.2,312.1 214.3,309.6 214.5,307.9 214.7,313.2 214.8,313.3 215.0,318.2 215.1,310.1 215.3,315.0 215.4,307.0 215.6,308.7 215.7,308.2 215.9,308.7 216.0,307.3 216.2,308.1 216.3,309.2 216.5,307.8 216.6,310.7 216.8,308.2 216.9,308.1 217.1,312.0 217.2,308.2 217.4,307.3 217.5,306.3 217.7,306.0 217.8,307.1 218.0,302.4 218.1,307.9 218.3,308.8 218.4,307.2 218.6,301.7 218.7,298.1 218.9,301.6 219.0,303.4 219.2,305.6 219.4,302.7 219.5,302.6 219.7,308.7 219.8,302.4 220.0,308.2 220.1,308.2 220.3,302.0 220.4,307.3 220.6,305.4 220.7,304.7 220.9,302.6 221.0,303.9 221.2,310.1 221.3,308.1 221.5,310.4 221.6,306.9 221.8,309.3 221.9,309.7 222.1,306.3 222.2,306.2 222.4,312.3 222.5,311.6 222.7,308.7 222.8,311.2 223.0,313.4 223.1,316.8 223.3,309.3 223.4,313.5 223.6,317.8 223.7,312.1 223.9,316.1 224.0,304.9 224.2,316.1 224.4,312.1 224.5,307.0 224.7,314.4 224.8,315.2 225.0,315.6 225.1,315.7 225.3,312.3 225.4,310.4 225.6,311.2 225.7,312.5 225.9,313.7 226.0,311.3 226.2,312.8 226.3,315.2 226.5,313.7 226.6,319.2 226.8,318.8 226.9,309.8 227.1,311.4 227.2,309.4 227.4,309.8 227.5,314.6 227.7,310.4 227.8,310.3 228.0,312.5 228.1,315.5 228.3,312.3 228.4,312.4 228.6,315.9 228.7,314.7 228.9,314.7 229.1,316.1 229.2,310.8 229.4,314.2 229.5,311.9 229.7,316.5 229.8,316.0 230.0,310.9 230.1,317.5 230.3,310.6 230.4,317.0 230.6,314.4 230.7,311.4 230.9,310.7 231.0,313.0 231.2,313.8 231.3,311.9 231.5,315.4 231.6,310.0 231.8,313.8 231.9,313.9 232.1,308.7 232.2,314.7 232.4,310.4 232.5,307.0 232.7,312.2 232.8,313.3 233.0,316.4 233.1,312.6 233.3,318.0 233.4,317.9 233.6,316.9 233.7,317.6 233.9,314.9 234.1,312.4 234.2,315.7 234.4,316.6 234.5,314.6 234.7,313.3 234.8,309.6 235.0,315.9 235.1,315.0 235.3,310.4 235.4,314.3 235.6,316.0 235.7,313.7 235.9,316.2 236.0,316.1 236.2,310.0 236.3,313.2 236.5,315.4 236.6,316.6 236.8,318.0 236.9,308.8 237.1,313.9 237.2,316.1 237.4,317.5 237.5,318.8 237.7,311.5 237.8,313.1 238.0,311.2 238.1,316.4 238.3,310.5 238.4,317.4 238.6,316.7 238.8,315.5 238.9,308.1 239.1,312.3 239.2,316.2 239.4,310.2 239.5,313.5 239.7,313.9 239.8,316.6 240.0,315.0 240.1,314.9 240.3,313.0 240.4,314.2 240.6,313.8 240.7,316.2 240.9,313.7 241.0,317.1 241.2,309.5 241.3,317.6 241.5,313.8 241.6,317.4 241.8,314.5 241.9,316.6 242.1,318.4 242.2,312.7 242.4,314.5 242.5,313.8 242.7,314.9 242.8,309.8 243.0,313.8 243.1,313.6 243.3,312.1 243.5,313.8 243.6,310.0 243.8,318.2 243.9,315.6 244.1,319.5 244.2,311.9 244.4,311.1 244.5,315.1 244.7,309.7 244.8,315.0 245.0,312.4 245.1,313.5 245.3,315.1 245.4,314.6 245.6,319.7 245.7,316.3 245.9,311.0 246.0,317.4 246.2,311.0 246.3,315.0 246.5,311.3 246.6,312.5 246.8,318.5 246.9,313.4 247.1,313.2 247.2,313.5 247.4,314.2 247.5,319.1 247.7,311.9 247.8,311.8 248.0,316.9 248.1,310.9 248.3,314.3 248.5,318.5 248.6,315.4 248.8,314.1 248.9,313.5 249.1,313.0 249.2,314.0 249.4,316.0 249.5,319.1 249.7,318.4 249.8,314.2 250.0,313.8 250.1,317.8 250.3,310.9 250.4,314.7 250.6,315.1 250.7,313.0 250.9,313.3 251.0,317.1 251.2,311.6 251.3,313.7 251.5,314.5 251.6,316.5 251.8,312.6 251.9,319.4 252.1,315.6 252.2,315.8 252.4,315.5 252.5,314.7 252.7,313.9 252.8,319.8 253.0,317.3 253.2,316.4 253.3,319.5 253.5,314.9 253.6,318.6 253.8,317.0 253.9,314.5 254.1,319.1 254.2,312.9 254.4,318.9 254.5,314.7 254.7,318.3 254.8,321.0 255.0,318.8 255.1,315.7 255.3,317.3 255.4,316.4 255.6,314.2 255.7,314.4 255.9,317.6 256.0,319.0 256.2,312.8 256.3,317.5 256.5,319.1 256.6,318.0 256.8,315.0 256.9,320.6 257.1,314.6 257.2,319.7 257.4,322.3 257.5,312.4 257.7,318.7 257.8,318.9 258.0,318.7 258.2,316.1 258.3,317.4 258.5,314.5 258.6,318.7 258.8,319.8 258.9,316.6 259.1,315.9 259.2,317.2 259.4,318.5 259.5,318.7 259.7,318.3 259.8,318.8 260.0,315.2 260.1,311.4 260.3,320.4 260.4,322.6 260.6,315.0 260.7,317.1 260.9,319.7 261.0,321.5 261.2,320.7 261.3,322.4 261.5,318.8 261.6,320.1 261.8,320.2 261.9,317.9 262.1,322.3 262.2,320.8 262.4,321.8 262.5,318.2 262.7,322.0 262.9,316.4 263.0,320.3 263.2,312.3 263.3,316.6 263.5,321.4 263.6,318.2 263.8,319.9 263.9,315.1 264.1,323.6 264.2,321.1 264.4,319.5 264.5,320.7 264.7,320.5 264.8,323.4 265.0,320.3 265.1,315.8 265.3,319.1 265.4,323.2 265.6,321.3 265.7,318.7 265.9,321.5 266.0,320.2 266.2,321.5 266.3,315.7 266.5,317.6 266.6,321.8 266.8,319.5 266.9,321.0 267.1,325.3 267.2,319.3 267.4,320.8 267.5,318.7 267.7,318.6 267.9,320.1 268.0,316.4 268.2,314.7 268.3,324.0 268.5,320.1 268.6,323.4 268.8,320.8 268.9,320.9 269.1,322.3 269.2,322.4 269.4,317.4 269.5,323.8 269.7,318.1 269.8,321.2 270.0,327.4 270.1,320.9 270.3,325.1 270.4,319.9 270.6,322.4 270.7,321.0 270.9,322.0 271.0,318.6 271.2,318.5 271.3,321.8 271.5,316.9 271.6,318.8 271.8,322.7 271.9,319.5 272.1,318.8 272.2,318.2 272.4,321.6 272.6,320.2 272.7,321.6 272.9,320.8 273.0,326.1 273.2,320.2 273.3,316.2 273.5,321.7 273.6,321.4 273.8,321.9 273.9,317.3 274.1,324.5 274.2,321.5 274.4,321.5 274.5,317.5 274.7,322.9 274.8,321.5 275.0,325.2 275.1,320.6 275.3,318.5 275.4,322.1 275.6,319.4 275.7,322.9 275.9,319.0 276.0,321.5 276.2,321.3 276.3,321.8 276.5,320.6 276.6,319.8 276.8,321.8 276.9,320.4 277.1,322.4 277.2,321.3 277.4,316.2 277.6,321.9 277.7,325.6 277.9,322.9 278.0,323.6 278.2,323.3 278.3,320.9 278.5,318.7 278.6,324.3 278.8,324.9 278.9,323.7 279.1,323.3 279.2,323.3 279.4,322.2 279.5,323.0 279.7,322.3 279.8,323.2 280.0,319.9 280.1,320.8 280.3,323.9 280.4,321.5 280.6,316.2 280.7,322.8 280.9,316.6 281.0,327.4 281.2,324.4 281.3,324.3 281.5,320.9 281.6,319.7 281.8,322.1 281.9,322.7 282.1,320.7 282.3,323.1 282.4,324.4 282.6,324.2 282.7,320.1 282.9,317.3 283.0,322.8 283.2,321.1 283.3,323.9 283.5,327.0 283.6,327.0 283.8,323.6 283.9,325.7 284.1,327.1 284.2,323.1 284.4,323.6 284.5,325.1 284.7,322.9 284.8,321.8 285.0,321.2 285.1,323.1 285.3,321.5 285.4,325.1 285.6,322.3 285.7,326.8 285.9,326.2 286.0,320.1 286.2,325.9 286.3,322.2 286.5,326.7 286.6,324.6 286.8,323.2 286.9,325.0 287.1,322.0 287.3,324.2 287.4,324.4 287.6,323.0 287.7,324.4 287.9,321.0 288.0,324.9 288.2,320.5 288.3,325.1 288.5,324.7 288.6,325.3 288.8,322.2 288.9,331.2 289.1,323.1 289.2,324.0 289.4,321.8 289.5,327.2 289.7,322.6 289.8,326.2 290.0,321.4 290.1,324.5 290.3,322.8 290.4,326.1 290.6,323.0 290.7,321.6 290.9,324.8 291.0,320.8 291.2,321.4 291.3,325.6 291.5,319.1 291.6,325.6 291.8,322.7 292.0,321.4 292.1,324.3 292.3,325.2 292.4,322.2 292.6,323.2 292.7,325.6 292.9,325.5 293.0,323.5 293.2,321.7 293.3,321.3 293.5,322.2 293.6,325.3 293.8,325.0 293.9,324.4 294.1,327.0 294.2,322.9 294.4,322.7 294.5,322.6 294.7,328.3 294.8,318.5 295.0,324.3 295.1,324.7 295.3,323.7 295.4,329.3 295.6,326.4 295.7,325.4 295.9,321.3 296.0,324.7 296.2,322.6 296.3,323.6 296.5,324.0 296.6,322.3 296.8,325.0 297.0,327.5 297.1,326.0 297.3,324.0 297.4,318.7 297.6,326.1 297.7,326.1 297.9,323.0 298.0,322.3 298.2,325.1 298.3,321.4 298.5,325.4 298.6,320.8 298.8,321.2 298.9,323.4 299.1,319.8 299.2,323.4 299.4,324.7 299.5,320.2 299.7,325.6 299.8,322.0 300.0,324.7 300.1,323.8 300.3,322.2 300.4,322.0 300.6,319.1 300.7,321.5 300.9,321.3 301.0,327.2 301.2,325.6 301.3,319.7 301.5,325.0 301.7,323.6 301.8,322.1 302.0,324.1 302.1,324.9 302.3,321.5 302.4,322.2 302.6,323.2 302.7,320.4 302.9,323.2 303.0,322.5 303.2,321.0 303.3,320.6 303.5,323.4 303.6,324.8 303.8,323.4 303.9,320.5 304.1,324.3 304.2,322.9 304.4,323.9 304.5,325.3 304.7,320.2 304.8,322.0 305.0,320.9 305.1,320.2 305.3,327.2 305.4,324.5 305.6,317.9 305.7,323.2 305.9,320.8 306.0,324.9 306.2,322.3 306.4,321.6 306.5,322.3 306.7,322.9 306.8,322.0 307.0,321.4 307.1,321.5 307.3,323.1 307.4,319.0 307.6,321.8 307.7,321.4 307.9,320.5 308.0,323.5 308.2,318.5 308.3,320.7 308.5,319.5 308.6,322.9 308.8,320.4 308.9,321.6 309.1,322.4 309.2,317.5 309.4,322.5 309.5,319.5 309.7,320.7 309.8,321.0 310.0,323.2 310.1,322.9 310.3,325.4 310.4,321.4 310.6,319.7 310.7,319.6 310.9,322.3 311.0,324.5 311.2,321.3 311.4,319.0 311.5,321.0 311.7,320.9 311.8,320.2 312.0,318.2 312.1,313.8 312.3,318.6 312.4,322.3 312.6,320.2 312.7,314.2 312.9,319.5 313.0,314.9 313.2,324.2 313.3,319.7 313.5,316.2 313.6,321.0 313.8,317.0 313.9,320.2 314.1,318.8 314.2,315.8 314.4,320.2 314.5,315.2 314.7,321.6 314.8,318.4 315.0,315.6 315.1,313.6 315.3,321.9 315.4,321.4 315.6,314.7 315.7,321.7 315.9,318.0 316.1,316.9 316.2,317.1 316.4,316.6 316.5,320.7 316.7,317.4 316.8,312.4 317.0,322.0 317.1,318.9 317.3,313.9 317.4,315.6 317.6,314.2 317.7,316.4 317.9,317.1 318.0,316.7 318.2,314.5 318.3,313.9 318.5,317.9 318.6,315.5 318.8,321.2 318.9,313.5 319.1,317.4 319.2,315.4 319.4,313.3 319.5,318.5 319.7,315.3 319.8,312.6 320.0,313.9 320.1,317.1 320.3,311.4 320.4,317.8 320.6,315.9 320.7,313.3 320.9,317.2 321.1,318.0 321.2,314.9 321.4,313.6 321.5,317.7 321.7,316.5 321.8,310.0 322.0,311.6 322.1,311.3 322.3,310.5 322.4,307.3 322.6,313.2 322.7,310.6 322.9,310.2 323.0,313.3 323.2,307.4 323.3,308.2 323.5,308.5 323.6,305.9 323.8,306.0 323.9,307.8 324.1,304.8 324.2,307.8 324.4,300.9 324.5,302.8 324.7,296.9 324.8,299.9 325.0,297.1 325.1,302.5 325.3,299.6 325.4,297.9 325.6,301.2 325.8,299.0 325.9,295.9 326.1,290.5 326.2,287.2 326.4,291.4 326.5,289.8 326.7,288.5 326.8,289.5 327.0,284.9 327.1,295.7 327.3,287.1 327.4,289.1 327.6,293.8 327.7,287.2 327.9,296.4 328.0,297.3 328.2,294.1 328.3,292.6 328.5,295.6 328.6,292.2 328.8,303.4 328.9,300.2 329.1,298.8 329.2,299.3 329.4,304.6 329.5,308.3 329.7,300.9 329.8,303.8 330.0,301.2 330.1,308.9 330.3,308.1 330.4,314.6 330.6,308.5 330.8,308.2 330.9,307.9 331.1,312.7 331.2,306.3 331.4,313.2 331.5,312.1 331.7,310.4 331.8,309.6 332.0,315.1 332.1,317.6 332.3,311.7 332.4,314.5 332.6,318.0 332.7,311.9 332.9,313.1 333.0,310.8 333.2,313.8 333.3,314.1 333.5,313.4 333.6,312.7 333.8,310.6 333.9,311.4 334.1,312.5 334.2,316.8 334.4,313.9 334.5,313.2 334.7,317.2 334.8,317.1 335.0,313.7 335.1,314.2 335.3,317.6 335.5,317.0 335.6,313.9 335.8,316.8 335.9,316.2 336.1,319.3 336.2,314.2 336.4,318.9 336.5,317.8 336.7,314.1 336.8,319.6 337.0,319.3 337.1,313.6 337.3,322.3 337.4,314.2 337.6,314.9 337.7,316.5 337.9,319.5 338.0,319.1 338.2,317.4 338.3,321.3 338.5,318.8 338.6,321.5 338.8,325.3 338.9,318.5 339.1,311.3 339.2,317.0 339.4,315.4 339.5,318.6 339.7,318.7 339.8,315.2 340.0,315.5 340.1,317.9 340.3,318.1 340.5,311.8 340.6,321.3 340.8,318.9 340.9,318.8 341.1,319.7 341.2,316.2 341.4,318.8 341.5,321.8 341.7,321.9 341.8,320.3 342.0,318.4 342.1,317.0 342.3,322.8 342.4,320.7 342.6,318.2 342.7,313.6 342.9,317.1 343.0,314.3 343.2,322.8 343.3,320.1 343.5,317.6 343.6,318.9 343.8,326.7 343.9,323.0 344.1,316.1 344.2,319.4 344.4,316.5 344.5,315.2 344.7,320.4 344.8,326.5 345.0,324.2 345.2,320.2 345.3,319.1 345.5,320.7 345.6,323.0 345.8,316.2 345.9,315.2 346.1,325.4 346.2,321.1 346.4,324.8 346.5,321.1 346.7,324.5 346.8,318.8 347.0,321.9 347.1,324.8 347.3,323.4 347.4,319.4 347.6,323.2 347.7,318.9 347.9,316.9 348.0,322.2 348.2,324.6 348.3,323.0 348.5,317.1 348.6,322.8 348.8,322.2 348.9,319.0 349.1,313.3 349.2,322.9 349.4,322.4 349.5,321.3 349.7,315.0 349.8,315.6 350.0,322.4 350.2,321.8 350.3,320.8 350.5,318.7 350.6,320.4 350.8,317.7 350.9,318.2 351.1,316.6 351.2,319.6 351.4,317.6 351.5,321.4 351.7,320.6 351.8,316.3 352.0,323.5 352.1,315.2 352.3,319.5 352.4,321.2 352.6,321.6 352.7,311.8 352.9,320.7 353.0,321.2 353.2,321.7 353.3,311.4 353.5,315.6 353.6,317.1 353.8,316.1 353.9,321.0 354.1,315.3 354.2,320.5 354.4,318.5 354.5,312.8 354.7,314.0 354.9,315.4 355.0,316.9 355.2,319.3 355.3,316.1 355.5,319.1 355.6,312.2 355.8,308.1 355.9,315.6 356.1,317.8 356.2,315.5 356.4,313.7 356.5,317.6 356.7,321.8 356.8,316.2 357.0,314.4 357.1,314.1 357.3,321.9 357.4,316.3 357.6,318.1 357.7,319.8 357.9,319.3 358.0,313.8 358.2,319.0 358.3,318.7 358.5,317.7 358.6,319.1 358.8,314.7 358.9,316.1 359.1,314.8 359.2,318.3 359.4,314.4 359.6,317.3 359.7,313.2 359.9,315.9 360.0,315.2 360.2,315.9 360.3,316.5 360.5,315.6 360.6,315.5 360.8,310.4 360.9,319.2 361.1,314.4 361.2,315.4 361.4,313.8 361.5,318.8 361.7,313.6 361.8,317.4 362.0,319.3 362.1,320.5 362.3,319.3 362.4,317.7 362.6,312.7 362.7,319.5 362.9,319.2 363.0,318.3 363.2,318.3 363.3,316.4 363.5,314.9 363.6,319.4 363.8,320.0 363.9,313.8 364.1,319.3 364.2,317.6 364.4,319.4 364.6,317.9 364.7,320.3 364.9,320.2 365.0,319.9 365.2,313.8 365.3,320.0 365.5,318.0 365.6,314.9 365.8,320.0 365.9,314.5 366.1,320.7 366.2,323.0 366.4,317.2 366.5,321.2 366.7,320.0 366.8,320.7 367.0,315.3 367.1,320.8 367.3,319.6 367.4,321.4 367.6,319.5 367.7,322.6 367.9,320.5 368.0,321.7 368.2,323.7 368.3,320.6 368.5,322.9 368.6,320.9 368.8,321.8 368.9,319.1 369.1,322.7 369.3,324.1 369.4,320.7 369.6,323.1 369.7,322.3 369.9,318.3 370.0,322.3 370.2,324.9 370.3,320.1 370.5,316.7 370.6,322.0 370.8,319.8 370.9,326.6 371.1,321.5 371.2,321.6 371.4,320.0 371.5,322.4 371.7,320.2 371.8,319.3 372.0,321.6 372.1,319.7 372.3,325.4 372.4,318.8 372.6,321.7 372.7,320.1 372.9,318.3 373.0,326.4 373.2,316.5 373.3,326.0 373.5,318.4 373.6,322.4 373.8,328.2 373.9,316.6 374.1,318.6 374.3,325.8 374.4,322.8 374.6,320.9 374.7,322.3 374.9,319.9 375.0,322.8 375.2,326.5 375.3,321.5 375.5,322.9 375.6,325.8 375.8,327.9 375.9,321.1 376.1,323.5 376.2,321.2 376.4,321.1 376.5,321.7 376.7,321.2 376.8,318.3 377.0,317.6 377.1,321.0 377.3,323.3 377.4,326.2 377.6,321.6 377.7,322.6 377.9,324.8 378.0,325.1 378.2,322.9 378.3,323.1 378.5,328.2 378.6,322.4 378.8,322.0 379.0,319.1 379.1,324.5 379.3,322.7 379.4,328.5 379.6,322.6 379.7,325.6 379.9,326.0 380.0,327.9 380.2,320.2 380.3,327.7 380.5,323.7 380.6,323.4 380.8,322.9 380.9,322.7 381.1,322.9 381.2,317.7 381.4,325.1 381.5,324.0 381.7,321.4 381.8,323.7 382.0,329.9 382.1,324.9 382.3,323.0 382.4,328.5 382.6,322.0 382.7,323.7 382.9,322.6 383.0,323.5 383.2,326.0 383.3,325.7 383.5,322.3 383.6,323.9 383.8,324.5 384.0,323.2 384.1,324.2 384.3,322.5 384.4,322.4 384.6,324.5 384.7,321.7 384.9,325.5 385.0,324.0 385.2,322.1 385.3,322.9 385.5,323.3 385.6,324.2 385.8,324.9 385.9,324.1 386.1,322.4 386.2,328.4 386.4,327.0 386.5,325.0 386.7,327.2 386.8,325.6 387.0,324.1 387.1,325.1 387.3,331.7 387.4,327.5 387.6,327.6 387.7,323.9 387.9,326.5 388.0,330.8 388.2,326.1 388.3,327.8 388.5,328.3 388.7,326.8 388.8,329.2 389.0,325.8 389.1,326.5 389.3,323.6 389.4,332.0 389.6,326.1 389.7,325.6 389.9,328.9 390.0,324.1 390.2,325.3 390.3,323.3 390.5,325.4 390.6,324.3 390.8,326.7 390.9,325.0 391.1,323.8 391.2,324.6 391.4,325.0 391.5,324.0 391.7,327.7 391.8,327.0 392.0,325.7 392.1,322.3 392.3,326.6 392.4,322.0 392.6,325.7 392.7,325.4 392.9,323.8 393.0,323.1 393.2,323.5 393.3,330.5 393.5,324.6 393.7,324.7 393.8,327.7 394.0,326.3 394.1,327.9 394.3,322.1 394.4,322.5 394.6,333.6 394.7,325.1 394.9,324.5 395.0,325.6 395.2,327.7 395.3,322.2 395.5,325.9 395.6,325.1 395.8,326.9 395.9,325.6 396.1,323.8 396.2,323.0 396.4,319.0 396.5,327.6 396.7,321.4 396.8,324.1 397.0,329.3 397.1,324.1 397.3,326.7 397.4,324.6 397.6,326.9 397.7,325.2 397.9,323.8 398.0,328.5 398.2,324.4 398.4,321.7 398.5,324.3 398.7,326.4 398.8,322.3 399.0,327.1 399.1,327.0 399.3,330.4 399.4,323.5 399.6,326.7 399.7,320.9 399.9,324.0 400.0,325.3 400.2,326.0 400.3,324.8 400.5,324.7 400.6,323.3 400.8,323.7 400.9,325.5 401.1,326.1 401.2,326.3 401.4,327.1 401.5,327.6 401.7,320.1 401.8,323.2 402.0,324.1 402.1,322.8 402.3,327.0 402.4,326.2 402.6,324.0 402.7,324.5 402.9,327.3 403.0,323.3 403.2,323.3 403.4,326.3 403.5,325.2 403.7,327.5 403.8,324.8 404.0,325.7 404.1,322.5 404.3,321.4 404.4,323.7 404.6,317.1 404.7,324.6 404.9,326.0 405.0,323.7 405.2,323.0 405.3,326.1 405.5,323.3 405.6,325.8 405.8,328.7 405.9,325.1 406.1,325.5 406.2,324.4 406.4,323.8 406.5,323.8 406.7,323.2 406.8,325.7 407.0,319.0 407.1,322.3 407.3,324.5 407.4,320.7 407.6,322.5 407.7,321.0 407.9,323.8 408.1,324.8 408.2,326.2 408.4,323.8 408.5,320.7 408.7,323.1 408.8,323.8 409.0,325.8 409.1,317.0 409.3,323.2 409.4,317.7 409.6,323.9 409.7,323.2 409.9,323.3 410.0,324.2 410.2,322.9 410.3,320.3 410.5,322.7 410.6,324.8 410.8,321.5 410.9,321.8 411.1,318.7 411.2,324.4 411.4,320.3 411.5,319.7 411.7,320.3 411.8,319.3 412.0,320.7 412.1,324.4 412.3,323.1 412.4,324.6 412.6,324.7 412.8,318.8 412.9,322.1 413.1,324.6 413.2,326.5 413.4,317.3 413.5,317.3 413.7,321.8 413.8,319.8 414.0,318.1 414.1,321.4 414.3,318.5 414.4,314.9 414.6,320.3 414.7,320.6 414.9,321.8 415.0,322.5 415.2,320.6 415.3,319.5 415.5,318.4 415.6,315.9 415.8,318.8 415.9,322.2 416.1,321.3 416.2,324.7 416.4,319.3 416.5,315.3 416.7,321.5 416.8,322.0 417.0,316.6 417.1,315.4 417.3,319.7 417.4,321.0 417.6,316.5 417.8,318.3 417.9,317.2 418.1,316.2 418.2,316.0 418.4,319.6 418.5,318.5 418.7,317.8 418.8,313.2 419.0,323.9 419.1,317.5 419.3,319.5 419.4,317.2 419.6,320.9 419.7,316.5 419.9,320.4 420.0,319.8 420.2,322.6 420.3,317.8 420.5,319.0 420.6,320.1 420.8,325.8 420.9,317.3 421.1,321.7 421.2,319.5 421.4,321.9 421.5,322.8 421.7,321.7 421.8,322.1 422.0,322.2 422.1,320.2 422.3,321.2 422.5,317.8 422.6,321.1 422.8,320.2 422.9,321.5 423.1,324.0 423.2,323.2 423.4,323.5 423.5,325.1 423.7,316.8 423.8,323.7 424.0,322.7 424.1,322.6 424.3,319.8 424.4,324.4 424.6,325.9 424.7,325.7 424.9,323.1 425.0,324.9 425.2,325.7 425.3,327.9 425.5,326.5 425.6,323.9 425.8,323.8 425.9,324.1 426.1,324.2 426.2,322.5 426.4,325.6 426.5,322.2 426.7,321.9 426.8,324.8 427.0,322.6 427.1,323.4 427.3,319.1 427.5,326.0 427.6,324.1 427.8,323.8 427.9,325.3 428.1,324.7 428.2,322.6 428.4,329.1 428.5,323.3 428.7,326.7 428.8,328.8 429.0,323.0 429.1,324.7 429.3,322.6 429.4,327.1 429.6,323.8 429.7,322.1 429.9,327.9 430.0,327.0 430.2,322.7 430.3,327.7 430.5,325.4 430.6,331.4 430.8,329.1 430.9,323.7 431.1,324.4 431.2,323.0 431.4,325.4 431.5,325.3 431.7,327.0 431.8,325.5 432.0,321.8 432.2,323.3 432.3,328.6 432.5,327.9 432.6,324.8 432.8,324.8 432.9,324.7 433.1,325.1 433.2,321.0 433.4,327.1 433.5,323.4 433.7,325.2 433.8,318.9 434.0,325.4 434.1,327.9 434.3,319.5 434.4,328.3 434.6,325.8 434.7,322.9 434.9,320.9 435.0,327.3 435.2,325.1 435.3,325.9 435.5,323.8 435.6,322.6 435.8,326.4 435.9,322.1 436.1,326.4 436.2,320.4 436.4,322.1 436.5,320.8 436.7,327.2 436.8,320.0 437.0,321.4 437.2,325.6 437.3,324.6 437.5,329.1 437.6,328.3 437.8,325.4 437.9,325.5 438.1,319.6 438.2,321.8 438.4,323.0 438.5,323.3 438.7,320.5 438.8,321.5 439.0,321.7 439.1,326.1 439.3,324.6 439.4,322.8 439.6,322.9 439.7,324.1 439.9,321.8 440.0,322.8 440.2,319.5 440.3,325.1 440.5,325.8 440.6,324.4 440.8,324.8 440.9,324.5 441.1,328.5 441.2,324.3 441.4,320.8 441.5,321.5 441.7,325.6 441.9,326.5 442.0,325.8 442.2,326.0 442.3,324.6 442.5,320.8 442.6,322.6 442.8,320.1 442.9,323.5 443.1,321.3 443.2,324.7 443.4,324.1 443.5,320.1 443.7,326.3 443.8,326.4 444.0,321.5 444.1,325.1 444.3,326.4 444.4,324.2 444.6,326.9 444.7,325.4 444.9,327.5 445.0,325.5 445.2,324.7 445.3,326.3 445.5,327.0 445.6,325.8 445.8,324.3 445.9,323.5 446.1,324.5 446.2,324.1 446.4,325.9 446.5,325.9 446.7,325.4 446.9,325.6 447.0,326.1 447.2,329.3 447.3,328.5 447.5,324.5 447.6,326.8 447.8,325.2 447.9,325.8 448.1,325.5 448.2,324.6 448.4,323.0 448.5,320.6 448.7,326.7 448.8,329.0 449.0,324.3 449.1,327.5 449.3,325.5 449.4,327.1 449.6,324.7 449.7,326.0 449.9,326.4 450.0,321.3 450.2,327.2 450.3,326.4 450.5,321.1 450.6,328.2 450.8,326.7 450.9,327.2 451.1,327.6 451.2,325.9 451.4,324.4 451.6,325.9 451.7,325.9 451.9,331.9 452.0,331.1 452.2,325.8 452.3,326.0 452.5,327.7 452.6,328.3 452.8,325.5 452.9,324.8 453.1,331.4 453.2,329.5 453.4,323.6 453.5,323.1 453.7,325.3 453.8,327.7 454.0,328.4 454.1,326.4 454.3,323.6 454.4,327.7 454.6,328.6 454.7,327.3 454.9,326.2 455.0,328.6 455.2,327.2 455.3,324.8 455.5,327.6 455.6,324.5 455.8,329.6 455.9,328.5 456.1,325.2 456.2,328.0 456.4,330.3 456.6,322.7 456.7,327.2 456.9,331.2 457.0,324.1 457.2,327.2 457.3,324.4 457.5,327.5 457.6,322.3 457.8,324.1 457.9,326.5 458.1,328.1 458.2,328.7 458.4,328.9 458.5,330.5 458.7,329.6 458.8,329.8 459.0,326.0 459.1,327.9 459.3,335.5 459.4,333.5 459.6,330.4 459.7,330.2 459.9,330.9 460.0,327.8 460.2,333.1 460.3,327.9 460.5,328.5 460.6,333.5 460.8,324.0 460.9,329.4 461.1,324.8 461.3,327.1 461.4,328.4 461.6,327.8 461.7,328.9 461.9,326.8 462.0,328.3 462.2,325.9 462.3,327.6 462.5,325.4 462.6,329.9 462.8,325.6 462.9,330.0 463.1,327.5 463.2,327.7 463.4,331.0 463.5,328.6 463.7,324.2 463.8,329.5 464.0,321.9 464.1,328.9 464.3,327.4 464.4,325.2 464.6,328.4 464.7,327.6 464.9,332.7 465.0,327.3 465.2,332.5 465.3,331.2 465.5,326.8 465.6,326.4 465.8,331.1 465.9,327.8 466.1,328.5 466.3,327.5 466.4,325.4 466.6,327.3 466.7,325.9 466.9,324.7 467.0,327.4 467.2,331.9 467.3,331.6 467.5,327.8 467.6,328.3 467.8,329.1 467.9,330.9 468.1,328.6 468.2,326.8 468.4,326.9 468.5,330.2 468.7,333.4 468.8,326.3 469.0,323.1 469.1,329.3 469.3,327.3 469.4,327.8 469.6,330.1 469.7,327.5 469.9,324.4 470.0,323.0 470.2,327.1 470.3,324.6 470.5,327.7 470.6,324.3 470.8,326.2 471.0,323.7 471.1,326.1 471.3,325.9 471.4,328.1 471.6,329.7 471.7,326.3 471.9,324.8 472.0,330.8 472.2,327.3 472.3,327.8 472.5,327.8 472.6,329.5 472.8,328.5 472.9,327.8 473.1,327.9 473.2,324.3 473.4,324.8 473.5,325.9 473.7,326.2 473.8,326.0 474.0,326.6 474.1,326.1 474.3,325.2 474.4,322.7 474.6,328.1 474.7,327.7 474.9,324.6 475.0,327.7 475.2,327.5 475.3,326.9 475.5,322.9 475.7,324.4 475.8,325.8 476.0,330.6 476.1,325.4 476.3,326.6 476.4,325.1 476.6,326.5 476.7,328.4 476.9,323.3 477.0,321.8 477.2,329.4 477.3,328.1 477.5,326.9 477.6,330.3 477.8,330.4 477.9,324.0 478.1,328.2 478.2,331.0 478.4,327.3 478.5,328.1 478.7,330.9 478.8,328.4 479.0,326.6 479.1,327.7 479.3,326.5 479.4,330.6 479.6,325.8 479.7,331.7 479.9,326.2 480.0,329.8 480.2,326.7 480.3,329.1 480.5,332.0 480.7,332.2 480.8,332.6 481.0,329.7 481.1,330.1 481.3,330.4 481.4,331.3 481.6,329.2 481.7,332.3 481.9,330.7 482.0,332.5 482.2,331.1 482.3,331.5 482.5,328.6 482.6,329.3 482.8,327.5 482.9,329.6 483.1,329.9 483.2,332.0 483.4,327.7 483.5,337.0 483.7,330.1 483.8,333.0 484.0,332.5 484.1,325.2 484.3,329.9 484.4,333.5 484.6,325.5 484.7,332.1 484.9,328.6 485.0,329.6 485.2,331.0 485.4,326.8 485.5,331.0 485.7,329.3 485.8,329.1 486.0,332.1 486.1,337.9 486.3,331.4 486.4,331.9 486.6,330.7 486.7,329.3 486.9,331.4 487.0,334.0 487.2,331.3 487.3,332.7 487.5,330.5 487.6,336.1 487.8,327.6 487.9,332.2 488.1,332.1 488.2,331.6 488.4,328.8 488.5,328.8 488.7,330.6 488.8,331.3 489.0,328.7 489.1,329.0 489.3,332.3 489.4,333.3 489.6,330.1 489.7,329.9 489.9,329.8 490.0,336.3 490.2,332.3 490.4,331.2 490.5,333.3 490.7,335.9 490.8,333.7 491.0,328.5 491.1,331.2 491.3,330.5 491.4,330.6 491.6,328.9 491.7,330.5 491.9,329.2 492.0,332.0 492.2,331.4 492.3,328.5 492.5,327.9 492.6,330.4 492.8,332.6 492.9,332.3 493.1,331.2 493.2,324.7 493.4,330.3 493.5,329.8 493.7,330.7 493.8,328.9 494.0,330.5 494.1,330.0 494.3,336.7 494.4,332.7 494.6,330.9 494.7,331.2 494.9,331.1 495.1,331.7 495.2,330.5 495.4,331.3 495.5,333.3 495.7,333.0 495.8,331.9 496.0,333.9 496.1,331.8 496.3,329.4 496.4,327.9 496.6,330.0 496.7,331.2 496.9,332.1 497.0,333.4 497.2,330.2 497.3,329.7 497.5,332.8 497.6,333.6 497.8,330.4 497.9,332.0 498.1,334.0 498.2,331.9 498.4,331.2 498.5,327.3 498.7,333.9 498.8,332.6 499.0,331.6 499.1,330.4 499.3,328.9 499.4,331.1 499.6,331.1 499.7,333.4 499.9,329.0 500.1,334.1 500.2,331.4 500.4,333.6 500.5,329.5 500.7,332.0 500.8,333.7 501.0,331.6 501.1,328.6 501.3,330.8 501.4,332.5 501.6,328.8 501.7,328.7 501.9,331.9 502.0,329.7 502.2,332.8 502.3,329.3 502.5,328.0 502.6,330.1 502.8,334.4 502.9,329.9 503.1,331.6 503.2,332.1 503.4,329.8 503.5,333.7 503.7,332.0 503.8,332.5 504.0,328.5 504.1,328.4 504.3,326.5 504.4,331.4 504.6,331.3 504.8,333.1 504.9,334.6 505.1,331.3 505.2,331.3 505.4,332.7 505.5,334.7 505.7,330.3 505.8,333.0 506.0,331.4 506.1,331.3 506.3,333.4 506.4,330.4 506.6,329.9 506.7,333.2 506.9,331.9 507.0,331.5 507.2,331.7 507.3,332.9 507.5,331.3 507.6,333.4 507.8,332.8 507.9,334.8 508.1,334.4 508.2,333.7 508.4,331.7 508.5,332.3 508.7,331.0 508.8,337.4 509.0,331.7 509.1,333.2 509.3,334.7 509.4,329.7 509.6,330.7 509.8,331.5 509.9,330.4 510.1,329.9 510.2,331.3 510.4,334.6 510.5,333.6 510.7,332.3 510.8,332.3 511.0,329.2 511.1,333.5 511.3,333.0 511.4,330.3 511.6,332.6 511.7,331.9 511.9,331.3 512.0,330.5 512.2,331.0 512.3,330.5 512.5,333.1 512.6,332.9 512.8,332.8 512.9,331.9 513.1,331.5 513.2,335.9 513.4,328.9 513.5,334.4 513.7,332.9 513.8,332.4 514.0,331.4 514.1,331.9 514.3,330.1 514.5,329.8 514.6,332.1 514.8,329.3 514.9,333.8 515.1,334.3 515.2,326.1 515.4,329.5 515.5,332.8 515.7,332.7 515.8,332.5 516.0,333.0 516.1,333.6 516.3,333.8 516.4,335.5 516.6,332.3 516.7,333.8 516.9,329.4 517.0,332.1 517.2,330.1 517.3,334.8 517.5,336.4 517.6,333.3 517.8,330.0 517.9,332.1 518.1,332.4 518.2,332.7 518.4,334.2 518.5,334.0 518.7,327.7 518.8,334.7 519.0,331.4 519.1,331.3 519.3,334.8 519.5,331.9 519.6,329.9 519.8,330.0 519.9,332.4 520.1,333.9 520.2,334.9 520.4,332.0 520.5,331.5 520.7,335.1 520.8,331.5 521.0,334.8 521.1,332.7 521.3,332.7 521.4,331.9 521.6,332.8 521.7,331.5 521.9,331.2 522.0,332.1 522.2,331.2 522.3,332.9 522.5,332.5 522.6,331.9 522.8,332.0 522.9,332.0 523.1,335.3 523.2,332.3 523.4,331.3 523.5,331.8 523.7,333.5 523.8,332.0 524.0,332.1"/>
<rect x="69.3" y="15.1" width="454.7" height="336.7" fill="none" stroke="#000" stroke-width="3.2"/>
<g stroke="#000" stroke-width="3">
<line x1="69.3" y1="351.8" x2="69.3" y2="357.9"/>
<line x1="107.2" y1="351.8" x2="107.2" y2="355.0"/>
<line x1="145.1" y1="351.8" x2="145.1" y2="357.9"/>
<line x1="183.0" y1="351.8" x2="183.0" y2="355.0"/>
<line x1="220.9" y1="351.8" x2="220.9" y2="357.9"/>
<line x1="258.8" y1="351.8" x2="258.8" y2="355.0"/>
<line x1="296.6" y1="351.8" x2="296.6" y2="357.9"/>
<line x1="334.5" y1="351.8" x2="334.5" y2="355.0"/>
<line x1="372.4" y1="351.8" x2="372.4" y2="357.9"/>
<line x1="410.3" y1="351.8" x2="410.3" y2="355.0"/>
<line x1="448.2" y1="351.8" x2="448.2" y2="357.9"/>
<line x1="486.1" y1="351.8" x2="486.1" y2="355.0"/>
<line x1="524.0" y1="351.8" x2="524.0" y2="357.9"/>
</g>
<text class="tk" x="68.8" y="384" text-anchor="middle">20</text>
<text class="tk" x="144.6" y="384" text-anchor="middle">30</text>
<text class="tk" x="220.4" y="384" text-anchor="middle">40</text>
<text class="tk" x="296.1" y="384" text-anchor="middle">50</text>
<text class="tk" x="371.9" y="384" text-anchor="middle">60</text>
<text class="tk" x="447.7" y="384" text-anchor="middle">70</text>
<text class="tk" x="523.5" y="384" text-anchor="middle">80</text>
<text class="ax" x="314" y="412" text-anchor="middle" style="font-size:26.7px">2 Theta (deg.)</text>
<text class="ax" transform="translate(33.8,201.2) rotate(-90)" style="font-size:27.2px" text-anchor="middle">Intensity (a.u.)</text>
<text class="dl" x="79.0" y="140" transform="translate(0,140) skewX(-5) translate(0,-140)">Δ</text><text class="pk" x="96.8" y="140">(101)</text>
<text class="dl" x="173.3" y="178.6" transform="translate(0,178.6) skewX(-5) translate(0,-178.6)">Δ</text><text class="pk" x="190.8" y="178.6">(004)</text>
<text class="dl" x="255.6" y="160.8" transform="translate(0,160.8) skewX(-5) translate(0,-160.8)">Δ</text><text class="pk" x="272.8" y="160.8">(200)</text>
<text class="dl" x="297.8" y="205.6" transform="translate(0,205.6) skewX(-5) translate(0,-205.6)">Δ</text><text class="pk" x="314.6" y="205.6">(105)</text>
<text class="dl" x="362.8" y="205.6" transform="translate(0,205.6) skewX(-5) translate(0,-205.6)">Δ</text><text class="pk" x="380.5" y="205.6">(211)</text>
<text class="lz" x="97.0" y="260.3" text-anchor="middle" transform="translate(97.0,253.5) skewX(-20) translate(-97.0,-253.5)">◊</text><text class="pk" x="105.5" y="259.5">(110)</text>
<text class="lz" x="166.3" y="250.8" text-anchor="middle" transform="translate(166.3,244.0) skewX(-20) translate(-166.3,-244.0)">◊</text><text class="pk" x="175.3" y="250">(101)</text>
<text class="lz" x="199.5" y="299.8" text-anchor="middle" transform="translate(199.5,293.0) skewX(-20) translate(-199.5,-293.0)">◊</text><text class="pk" x="208.7" y="299">(200)</text>
<text class="lz" x="300.3" y="279.0" text-anchor="middle" transform="translate(300.3,272.2) skewX(-20) translate(-300.3,-272.2)">◊</text><text class="pk" x="309.4" y="278.2">(211)</text>
<text class="lz" x="340.2" y="306.0" text-anchor="middle" transform="translate(340.2,299.2) skewX(-20) translate(-340.2,-299.2)">◊</text><text class="pk" x="349.4" y="305.2">(220)</text>
<text class="lz" x="404.0" y="299.8" text-anchor="middle" transform="translate(404.0,293.0) skewX(-20) translate(-404.0,-293.0)">◊</text><text class="pk" x="412.9" y="299">(112)</text>
<text class="lb" fill="#00b050"><tspan x="408.6" y="88.4">IrO</tspan><tspan x="442.2" y="96.7" style="font-size:13px">2</tspan><tspan x="448.6" y="88.4">/N-TiO</tspan><tspan x="515" y="96.9" style="font-size:13px">2</tspan></text>
<text class="lb" fill="#000080"><tspan x="442.7" y="171.2">N-TiO</tspan><tspan x="502.6" y="180" style="font-size:13px">2</tspan></text>
<text class="lb" fill="#c00000"><tspan x="442.9" y="264.6">IrO</tspan><tspan x="476.7" y="273" style="font-size:13px">2</tspan></text>
<line x1="408.5" y1="83" x2="394.6" y2="89.3" stroke="#00b050" stroke-width="0.95"/><polygon points="386.9,92.8 393.6,87.1 395.6,91.5" fill="#00b050"/>
<line x1="443.8" y1="166.8" x2="429.8" y2="173.1" stroke="#1e5049" stroke-width="0.95"/><polygon points="422,176.6 428.8,170.9 430.7,175.3" fill="#1e5049"/>
<line x1="440.9" y1="256.5" x2="427.0" y2="263.0" stroke="#c00000" stroke-width="0.95"/><polygon points="419.3,266.6 426.0,260.8 428.0,265.2" fill="#c00000"/>
</svg>
</body></html>
